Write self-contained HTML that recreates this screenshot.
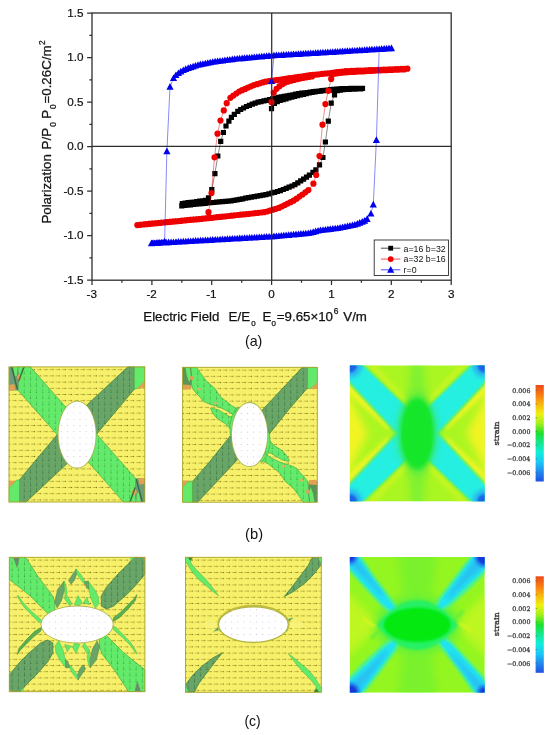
<!DOCTYPE html>
<html lang="en"><head><meta charset="utf-8"><title>Figure</title>
<style>
html,body{margin:0;padding:0;background:#fff;}
body{width:550px;height:735px;overflow:hidden;}
svg{display:block;font-family:"Liberation Sans",sans-serif;}
</style></head><body>
<svg width="550" height="735" viewBox="0 0 550 735">
<defs>
<pattern id="ph" width="6.2" height="6.2" patternUnits="userSpaceOnUse" patternTransform="translate(3.2,0)">
<path d="M0.4,3.1H4.0" stroke="#988a1c" stroke-width="0.85" stroke-opacity="0.6"/><circle cx="4.0" cy="3.1" r="0.62" fill="#6e6010" fill-opacity="0.8"/></pattern>
<pattern id="pvl" width="6.2" height="6.2" patternUnits="userSpaceOnUse" patternTransform="translate(0,3.2)">
<path d="M3.1,0.4V4.0" stroke="#3aa84a" stroke-width="0.85" stroke-opacity="0.55"/><circle cx="3.1" cy="4.0" r="0.6" fill="#1f8a35" fill-opacity="0.7"/></pattern>
<pattern id="pvd" width="6.2" height="6.2" patternUnits="userSpaceOnUse" patternTransform="translate(0,3.2)">
<path d="M3.1,0.4V4.0" stroke="#3c7a48" stroke-width="0.85" stroke-opacity="0.6"/><circle cx="3.1" cy="4.0" r="0.6" fill="#2a5f3a" fill-opacity="0.75"/></pattern>
<pattern id="pdot" width="6.2" height="6.2" patternUnits="userSpaceOnUse">
<circle cx="3.1" cy="3.1" r="0.55" fill="#b9a8d0" fill-opacity="0.8"/></pattern>
<filter id="bl1" x="-20%" y="-20%" width="140%" height="140%"><feGaussianBlur stdDeviation="1.1"/></filter>
<filter id="bl2" x="-20%" y="-20%" width="140%" height="140%"><feGaussianBlur stdDeviation="2.2"/></filter>
<filter id="bl3" x="-30%" y="-30%" width="160%" height="160%"><feGaussianBlur stdDeviation="4"/></filter>
<filter id="bl0" x="-10%" y="-10%" width="120%" height="120%"><feGaussianBlur stdDeviation="0.45"/></filter>
<linearGradient id="cb" x1="0" y1="0" x2="0" y2="1">
<stop offset="0" stop-color="#f04818"/><stop offset="0.10" stop-color="#f87a12"/><stop offset="0.20" stop-color="#f8b80c"/>
<stop offset="0.30" stop-color="#f0f012"/><stop offset="0.40" stop-color="#a2f01a"/><stop offset="0.50" stop-color="#1ce02c"/>
<stop offset="0.60" stop-color="#12e890"/><stop offset="0.70" stop-color="#12eedc"/><stop offset="0.80" stop-color="#1ac8f6"/>
<stop offset="0.90" stop-color="#208af0"/><stop offset="1" stop-color="#2050e0"/></linearGradient>
</defs>
<rect width="550" height="735" fill="#fff"/>
<path d="M271.5,108.7 L274.4,103.4 L277.3,101.6 L280.2,100.5 L283.1,99.7 L286.0,98.8 L288.9,97.9 L291.8,97.1 L294.7,96.4 L297.6,95.7 L300.5,94.9 L303.4,94.3 L306.3,93.6 L309.2,93.0 L312.1,92.4 L315.0,92.0 L317.9,91.5 L320.8,91.1 L323.7,90.7 L326.6,90.4 L329.5,90.1 L332.4,89.8" fill="none" stroke="#000000" stroke-width="0.55" stroke-opacity="0.85"/>
<path d="M362.5,88.3 L359.6,88.3 L356.7,88.4 L353.8,88.4 L350.9,88.4 L348.0,88.5 L345.1,88.5 L342.2,88.7 L339.3,88.9 L336.4,89.2 L333.5,89.4 L330.6,89.7 L327.7,90.0 L324.8,90.3 L321.9,90.6 L319.0,91.0 L316.1,91.4 L313.2,91.7 L310.3,92.1 L307.4,92.5 L304.5,92.9 L301.6,93.2 L298.7,93.7 L295.8,94.2 L292.9,94.8 L290.0,95.3 L287.1,95.8 L284.2,96.3 L281.3,96.8 L278.4,97.4 L275.5,98.1 L272.6,98.9 L269.7,99.6 L266.8,100.3 L263.9,100.9 L261.0,101.6 L258.1,102.2 L255.2,103.1 L252.3,104.2 L249.4,105.3 L246.5,106.5 L243.6,108.0 L240.7,109.5 L237.8,111.3 L234.3,114.4 L231.4,117.3 L228.9,121.2 L226.0,126.0 L223.4,132.5 L220.7,141.4 L217.8,156.0 L214.9,173.6 L211.8,189.5 L208.5,197.8 L205.5,200.4 L202.6,200.8 L199.7,201.2 L196.8,201.6 L193.9,202.0 L191.0,202.4 L188.1,202.7 L185.2,203.1 L182.3,203.5" fill="none" stroke="#000000" stroke-width="0.55" stroke-opacity="0.85"/>
<path d="M181.8,205.8 L184.7,205.5 L187.6,205.2 L190.5,204.8 L193.4,204.5 L196.3,204.2 L199.2,203.9 L202.1,203.6 L205.0,203.3 L207.9,203.0 L210.8,202.7 L213.7,202.5 L216.6,202.2 L219.5,201.9 L222.4,201.7 L225.3,201.4 L228.2,201.2 L231.1,200.8 L234.0,200.3 L236.9,199.8 L239.8,199.3 L242.7,198.8 L245.6,198.2 L248.5,197.7 L251.4,197.2 L254.3,196.7 L257.2,196.2 L260.1,195.7 L263.0,195.2 L265.9,194.6 L268.8,193.8 L271.7,193.0 L274.6,192.3 L277.5,191.5 L280.4,190.6 L283.3,189.5 L286.2,188.3 L289.1,187.2 L292.0,186.0 L294.9,184.7 L297.8,182.8 L300.7,180.9 L303.6,179.1 L306.5,177.1 L309.4,175.1 L313.0,172.4 L315.9,169.9 L319.5,164.8 L322.9,157.5 L325.4,142.0 L328.3,121.1 L331.2,103.2 L334.5,94.9 L337.5,90.6 L340.4,90.2 L343.3,89.7 L346.2,89.5 L349.1,89.3 L352.0,89.2 L354.9,89.1 L357.8,89.0 L360.7,88.9" fill="none" stroke="#000000" stroke-width="0.55" stroke-opacity="0.85"/>
<path d="M268.9,106.1h5.2v5.2h-5.2zM271.8,100.8h5.2v5.2h-5.2zM274.7,99.0h5.2v5.2h-5.2zM277.6,97.9h5.2v5.2h-5.2zM280.5,97.1h5.2v5.2h-5.2zM283.4,96.2h5.2v5.2h-5.2zM286.3,95.3h5.2v5.2h-5.2zM289.2,94.5h5.2v5.2h-5.2zM292.1,93.8h5.2v5.2h-5.2zM295.0,93.1h5.2v5.2h-5.2zM297.9,92.3h5.2v5.2h-5.2zM300.8,91.7h5.2v5.2h-5.2zM303.7,91.0h5.2v5.2h-5.2zM306.6,90.4h5.2v5.2h-5.2zM309.5,89.8h5.2v5.2h-5.2zM312.4,89.4h5.2v5.2h-5.2zM315.3,88.9h5.2v5.2h-5.2zM318.2,88.5h5.2v5.2h-5.2zM321.1,88.1h5.2v5.2h-5.2zM324.0,87.8h5.2v5.2h-5.2zM326.9,87.5h5.2v5.2h-5.2zM329.8,87.2h5.2v5.2h-5.2zM359.9,85.7h5.2v5.2h-5.2zM357.0,85.7h5.2v5.2h-5.2zM354.1,85.8h5.2v5.2h-5.2zM351.2,85.8h5.2v5.2h-5.2zM348.3,85.8h5.2v5.2h-5.2zM345.4,85.9h5.2v5.2h-5.2zM342.5,85.9h5.2v5.2h-5.2zM339.6,86.1h5.2v5.2h-5.2zM336.7,86.3h5.2v5.2h-5.2zM333.8,86.6h5.2v5.2h-5.2zM330.9,86.8h5.2v5.2h-5.2zM328.0,87.1h5.2v5.2h-5.2zM325.1,87.4h5.2v5.2h-5.2zM322.2,87.7h5.2v5.2h-5.2zM319.3,88.0h5.2v5.2h-5.2zM316.4,88.4h5.2v5.2h-5.2zM313.5,88.8h5.2v5.2h-5.2zM310.6,89.1h5.2v5.2h-5.2zM307.7,89.5h5.2v5.2h-5.2zM304.8,89.9h5.2v5.2h-5.2zM301.9,90.3h5.2v5.2h-5.2zM299.0,90.6h5.2v5.2h-5.2zM296.1,91.1h5.2v5.2h-5.2zM293.2,91.6h5.2v5.2h-5.2zM290.3,92.2h5.2v5.2h-5.2zM287.4,92.7h5.2v5.2h-5.2zM284.5,93.2h5.2v5.2h-5.2zM281.6,93.7h5.2v5.2h-5.2zM278.7,94.2h5.2v5.2h-5.2zM275.8,94.8h5.2v5.2h-5.2zM272.9,95.5h5.2v5.2h-5.2zM270.0,96.3h5.2v5.2h-5.2zM267.1,97.0h5.2v5.2h-5.2zM264.2,97.7h5.2v5.2h-5.2zM261.3,98.3h5.2v5.2h-5.2zM258.4,99.0h5.2v5.2h-5.2zM255.5,99.6h5.2v5.2h-5.2zM252.6,100.5h5.2v5.2h-5.2zM249.7,101.6h5.2v5.2h-5.2zM246.8,102.7h5.2v5.2h-5.2zM243.9,103.9h5.2v5.2h-5.2zM241.0,105.4h5.2v5.2h-5.2zM238.1,106.9h5.2v5.2h-5.2zM235.2,108.7h5.2v5.2h-5.2zM231.7,111.8h5.2v5.2h-5.2zM228.8,114.7h5.2v5.2h-5.2zM226.3,118.6h5.2v5.2h-5.2zM223.4,123.4h5.2v5.2h-5.2zM220.8,129.9h5.2v5.2h-5.2zM218.1,138.8h5.2v5.2h-5.2zM215.2,153.4h5.2v5.2h-5.2zM212.3,171.0h5.2v5.2h-5.2zM209.2,186.9h5.2v5.2h-5.2zM205.9,195.2h5.2v5.2h-5.2zM202.9,197.8h5.2v5.2h-5.2zM200.0,198.2h5.2v5.2h-5.2zM197.1,198.6h5.2v5.2h-5.2zM194.2,199.0h5.2v5.2h-5.2zM191.3,199.4h5.2v5.2h-5.2zM188.4,199.8h5.2v5.2h-5.2zM185.5,200.1h5.2v5.2h-5.2zM182.6,200.5h5.2v5.2h-5.2zM179.7,200.9h5.2v5.2h-5.2zM179.2,203.2h5.2v5.2h-5.2zM182.1,202.9h5.2v5.2h-5.2zM185.0,202.6h5.2v5.2h-5.2zM187.9,202.2h5.2v5.2h-5.2zM190.8,201.9h5.2v5.2h-5.2zM193.7,201.6h5.2v5.2h-5.2zM196.6,201.3h5.2v5.2h-5.2zM199.5,201.0h5.2v5.2h-5.2zM202.4,200.7h5.2v5.2h-5.2zM205.3,200.4h5.2v5.2h-5.2zM208.2,200.1h5.2v5.2h-5.2zM211.1,199.9h5.2v5.2h-5.2zM214.0,199.6h5.2v5.2h-5.2zM216.9,199.3h5.2v5.2h-5.2zM219.8,199.1h5.2v5.2h-5.2zM222.7,198.8h5.2v5.2h-5.2zM225.6,198.6h5.2v5.2h-5.2zM228.5,198.2h5.2v5.2h-5.2zM231.4,197.7h5.2v5.2h-5.2zM234.3,197.2h5.2v5.2h-5.2zM237.2,196.7h5.2v5.2h-5.2zM240.1,196.2h5.2v5.2h-5.2zM243.0,195.6h5.2v5.2h-5.2zM245.9,195.1h5.2v5.2h-5.2zM248.8,194.6h5.2v5.2h-5.2zM251.7,194.1h5.2v5.2h-5.2zM254.6,193.6h5.2v5.2h-5.2zM257.5,193.1h5.2v5.2h-5.2zM260.4,192.6h5.2v5.2h-5.2zM263.3,192.0h5.2v5.2h-5.2zM266.2,191.2h5.2v5.2h-5.2zM269.1,190.4h5.2v5.2h-5.2zM272.0,189.7h5.2v5.2h-5.2zM274.9,188.9h5.2v5.2h-5.2zM277.8,188.0h5.2v5.2h-5.2zM280.7,186.9h5.2v5.2h-5.2zM283.6,185.7h5.2v5.2h-5.2zM286.5,184.6h5.2v5.2h-5.2zM289.4,183.4h5.2v5.2h-5.2zM292.3,182.1h5.2v5.2h-5.2zM295.2,180.2h5.2v5.2h-5.2zM298.1,178.3h5.2v5.2h-5.2zM301.0,176.5h5.2v5.2h-5.2zM303.9,174.5h5.2v5.2h-5.2zM306.8,172.5h5.2v5.2h-5.2zM310.4,169.8h5.2v5.2h-5.2zM313.3,167.3h5.2v5.2h-5.2zM316.9,162.2h5.2v5.2h-5.2zM320.3,154.9h5.2v5.2h-5.2zM322.8,139.4h5.2v5.2h-5.2zM325.7,118.5h5.2v5.2h-5.2zM328.6,100.6h5.2v5.2h-5.2zM331.9,92.3h5.2v5.2h-5.2zM334.9,88.0h5.2v5.2h-5.2zM337.8,87.6h5.2v5.2h-5.2zM340.7,87.1h5.2v5.2h-5.2zM343.6,86.9h5.2v5.2h-5.2zM346.5,86.7h5.2v5.2h-5.2zM349.4,86.6h5.2v5.2h-5.2zM352.3,86.5h5.2v5.2h-5.2zM355.2,86.4h5.2v5.2h-5.2zM358.1,86.3h5.2v5.2h-5.2z" fill="#000000"/>
<path d="M271.5,102.2 L273.7,92.7 L276.6,88.8 L279.5,86.2 L282.4,84.2 L285.3,82.6 L288.3,81.6 L291.2,80.7 L294.1,79.9 L297.0,79.2 L300.0,78.6 L303.0,78.0 L306.0,77.5 L309.0,77.0 L312.0,76.5" fill="none" stroke="#ee0000" stroke-width="0.55" stroke-opacity="0.85"/>
<path d="M407.4,68.7 L404.4,68.8 L401.5,68.9 L398.6,69.1 L395.6,69.2 L392.7,69.3 L389.7,69.4 L386.8,69.5 L383.8,69.6 L380.9,69.8 L377.9,69.9 L375.0,70.0 L372.0,70.1 L369.1,70.2 L366.1,70.4 L363.2,70.5 L360.2,70.6 L357.3,70.7 L354.3,70.8 L351.4,70.9 L348.4,71.1 L345.5,71.2 L342.5,71.5 L339.6,71.9 L336.6,72.2 L333.7,72.6 L330.7,73.0 L327.8,73.3 L324.8,73.6 L321.9,73.9 L318.9,74.3 L316.0,74.6 L313.0,74.9 L310.1,75.2 L307.1,75.6 L304.2,76.1 L301.2,76.5 L298.3,76.9 L295.3,77.4 L292.4,77.8 L289.4,78.2 L286.5,78.6 L283.5,79.0 L280.6,79.5 L277.6,79.9 L274.7,80.3 L271.7,80.7 L268.8,81.2 L265.8,81.7 L262.9,82.4 L259.9,83.3 L257.0,84.2 L254.0,85.1 L251.1,86.3 L248.1,87.6 L245.2,88.9 L242.2,90.2 L239.3,91.5 L236.3,93.5 L233.4,95.6 L230.4,97.8 L226.7,103.2 L223.8,110.4 L220.5,120.6 L217.5,133.7 L214.5,157.3 L211.5,193.1 L208.5,212.2 L205.5,218.4 L202.6,218.7 L199.6,219.0 L196.7,219.3 L193.7,219.6 L190.8,219.8 L187.8,220.1 L184.9,220.4 L181.9,220.7 L179.0,221.0 L176.0,221.3 L173.1,221.6 L170.1,221.9 L167.2,222.2 L164.2,222.5 L161.3,222.7 L158.3,223.0 L155.4,223.3 L152.4,223.6 L149.5,223.9 L146.5,224.2 L143.6,224.5 L140.6,224.8 L137.7,225.1" fill="none" stroke="#ee0000" stroke-width="0.55" stroke-opacity="0.85"/>
<path d="M137.3,225.1 L140.2,224.8 L143.2,224.5 L146.1,224.2 L149.1,223.9 L152.0,223.7 L155.0,223.4 L157.9,223.1 L160.9,222.8 L163.8,222.5 L166.8,222.2 L169.7,221.9 L172.7,221.6 L175.6,221.4 L178.6,221.1 L181.5,220.8 L184.5,220.5 L187.4,220.2 L190.4,219.9 L193.3,219.6 L196.3,219.3 L199.2,219.1 L202.2,218.8 L205.1,218.5 L208.1,218.2 L211.0,217.9 L214.0,217.6 L216.9,217.2 L219.9,216.9 L222.8,216.6 L225.8,216.3 L228.7,216.0 L231.7,215.7 L234.6,215.3 L237.6,215.0 L240.5,214.7 L243.5,214.4 L246.4,214.1 L249.4,213.8 L252.3,213.5 L255.3,213.1 L258.2,212.8 L261.2,212.5 L264.1,212.2 L267.1,211.5 L270.0,210.6 L273.0,209.7 L275.9,208.8 L278.9,207.9 L281.8,206.5 L284.8,205.1 L287.7,203.6 L290.7,202.2 L293.6,200.7 L296.6,198.7 L299.5,196.6 L302.5,194.5 L305.4,192.3 L308.4,190.1 L313.4,183.7 L316.2,175.0 L319.5,156.1 L322.5,124.7 L325.4,104.1 L328.3,90.8 L331.2,78.9 L334.0,73.8 L336.9,73.4 L339.9,73.0 L342.8,72.6 L345.8,72.3 L348.7,72.1 L351.7,71.9 L354.6,71.8 L357.6,71.6 L360.5,71.4 L363.5,71.3 L366.4,71.1 L369.4,70.9 L372.3,70.8 L375.3,70.6 L378.2,70.5 L381.2,70.3 L384.1,70.2 L387.1,70.1 L390.0,69.9 L393.0,69.8 L395.9,69.7 L398.9,69.6 L401.8,69.4 L404.8,69.3" fill="none" stroke="#ee0000" stroke-width="0.55" stroke-opacity="0.85"/>
<path d="M268.4,102.2a3.1,3.1 0 1,0 6.2,0a3.1,3.1 0 1,0 -6.2,0zM270.6,92.7a3.1,3.1 0 1,0 6.2,0a3.1,3.1 0 1,0 -6.2,0zM273.5,88.8a3.1,3.1 0 1,0 6.2,0a3.1,3.1 0 1,0 -6.2,0zM276.4,86.2a3.1,3.1 0 1,0 6.2,0a3.1,3.1 0 1,0 -6.2,0zM279.3,84.2a3.1,3.1 0 1,0 6.2,0a3.1,3.1 0 1,0 -6.2,0zM282.2,82.6a3.1,3.1 0 1,0 6.2,0a3.1,3.1 0 1,0 -6.2,0zM285.2,81.6a3.1,3.1 0 1,0 6.2,0a3.1,3.1 0 1,0 -6.2,0zM288.1,80.7a3.1,3.1 0 1,0 6.2,0a3.1,3.1 0 1,0 -6.2,0zM291.0,79.9a3.1,3.1 0 1,0 6.2,0a3.1,3.1 0 1,0 -6.2,0zM293.9,79.2a3.1,3.1 0 1,0 6.2,0a3.1,3.1 0 1,0 -6.2,0zM296.9,78.6a3.1,3.1 0 1,0 6.2,0a3.1,3.1 0 1,0 -6.2,0zM299.9,78.0a3.1,3.1 0 1,0 6.2,0a3.1,3.1 0 1,0 -6.2,0zM302.9,77.5a3.1,3.1 0 1,0 6.2,0a3.1,3.1 0 1,0 -6.2,0zM305.9,77.0a3.1,3.1 0 1,0 6.2,0a3.1,3.1 0 1,0 -6.2,0zM308.9,76.5a3.1,3.1 0 1,0 6.2,0a3.1,3.1 0 1,0 -6.2,0zM404.3,68.7a3.1,3.1 0 1,0 6.2,0a3.1,3.1 0 1,0 -6.2,0zM401.3,68.8a3.1,3.1 0 1,0 6.2,0a3.1,3.1 0 1,0 -6.2,0zM398.4,68.9a3.1,3.1 0 1,0 6.2,0a3.1,3.1 0 1,0 -6.2,0zM395.4,69.1a3.1,3.1 0 1,0 6.2,0a3.1,3.1 0 1,0 -6.2,0zM392.5,69.2a3.1,3.1 0 1,0 6.2,0a3.1,3.1 0 1,0 -6.2,0zM389.6,69.3a3.1,3.1 0 1,0 6.2,0a3.1,3.1 0 1,0 -6.2,0zM386.6,69.4a3.1,3.1 0 1,0 6.2,0a3.1,3.1 0 1,0 -6.2,0zM383.7,69.5a3.1,3.1 0 1,0 6.2,0a3.1,3.1 0 1,0 -6.2,0zM380.7,69.6a3.1,3.1 0 1,0 6.2,0a3.1,3.1 0 1,0 -6.2,0zM377.8,69.8a3.1,3.1 0 1,0 6.2,0a3.1,3.1 0 1,0 -6.2,0zM374.8,69.9a3.1,3.1 0 1,0 6.2,0a3.1,3.1 0 1,0 -6.2,0zM371.9,70.0a3.1,3.1 0 1,0 6.2,0a3.1,3.1 0 1,0 -6.2,0zM368.9,70.1a3.1,3.1 0 1,0 6.2,0a3.1,3.1 0 1,0 -6.2,0zM366.0,70.2a3.1,3.1 0 1,0 6.2,0a3.1,3.1 0 1,0 -6.2,0zM363.0,70.4a3.1,3.1 0 1,0 6.2,0a3.1,3.1 0 1,0 -6.2,0zM360.1,70.5a3.1,3.1 0 1,0 6.2,0a3.1,3.1 0 1,0 -6.2,0zM357.1,70.6a3.1,3.1 0 1,0 6.2,0a3.1,3.1 0 1,0 -6.2,0zM354.2,70.7a3.1,3.1 0 1,0 6.2,0a3.1,3.1 0 1,0 -6.2,0zM351.2,70.8a3.1,3.1 0 1,0 6.2,0a3.1,3.1 0 1,0 -6.2,0zM348.3,70.9a3.1,3.1 0 1,0 6.2,0a3.1,3.1 0 1,0 -6.2,0zM345.3,71.1a3.1,3.1 0 1,0 6.2,0a3.1,3.1 0 1,0 -6.2,0zM342.4,71.2a3.1,3.1 0 1,0 6.2,0a3.1,3.1 0 1,0 -6.2,0zM339.4,71.5a3.1,3.1 0 1,0 6.2,0a3.1,3.1 0 1,0 -6.2,0zM336.5,71.9a3.1,3.1 0 1,0 6.2,0a3.1,3.1 0 1,0 -6.2,0zM333.5,72.2a3.1,3.1 0 1,0 6.2,0a3.1,3.1 0 1,0 -6.2,0zM330.6,72.6a3.1,3.1 0 1,0 6.2,0a3.1,3.1 0 1,0 -6.2,0zM327.6,73.0a3.1,3.1 0 1,0 6.2,0a3.1,3.1 0 1,0 -6.2,0zM324.7,73.3a3.1,3.1 0 1,0 6.2,0a3.1,3.1 0 1,0 -6.2,0zM321.7,73.6a3.1,3.1 0 1,0 6.2,0a3.1,3.1 0 1,0 -6.2,0zM318.8,73.9a3.1,3.1 0 1,0 6.2,0a3.1,3.1 0 1,0 -6.2,0zM315.8,74.3a3.1,3.1 0 1,0 6.2,0a3.1,3.1 0 1,0 -6.2,0zM312.9,74.6a3.1,3.1 0 1,0 6.2,0a3.1,3.1 0 1,0 -6.2,0zM309.9,74.9a3.1,3.1 0 1,0 6.2,0a3.1,3.1 0 1,0 -6.2,0zM307.0,75.2a3.1,3.1 0 1,0 6.2,0a3.1,3.1 0 1,0 -6.2,0zM304.0,75.6a3.1,3.1 0 1,0 6.2,0a3.1,3.1 0 1,0 -6.2,0zM301.1,76.1a3.1,3.1 0 1,0 6.2,0a3.1,3.1 0 1,0 -6.2,0zM298.1,76.5a3.1,3.1 0 1,0 6.2,0a3.1,3.1 0 1,0 -6.2,0zM295.2,76.9a3.1,3.1 0 1,0 6.2,0a3.1,3.1 0 1,0 -6.2,0zM292.2,77.4a3.1,3.1 0 1,0 6.2,0a3.1,3.1 0 1,0 -6.2,0zM289.3,77.8a3.1,3.1 0 1,0 6.2,0a3.1,3.1 0 1,0 -6.2,0zM286.3,78.2a3.1,3.1 0 1,0 6.2,0a3.1,3.1 0 1,0 -6.2,0zM283.4,78.6a3.1,3.1 0 1,0 6.2,0a3.1,3.1 0 1,0 -6.2,0zM280.4,79.0a3.1,3.1 0 1,0 6.2,0a3.1,3.1 0 1,0 -6.2,0zM277.5,79.5a3.1,3.1 0 1,0 6.2,0a3.1,3.1 0 1,0 -6.2,0zM274.5,79.9a3.1,3.1 0 1,0 6.2,0a3.1,3.1 0 1,0 -6.2,0zM271.6,80.3a3.1,3.1 0 1,0 6.2,0a3.1,3.1 0 1,0 -6.2,0zM268.6,80.7a3.1,3.1 0 1,0 6.2,0a3.1,3.1 0 1,0 -6.2,0zM265.7,81.2a3.1,3.1 0 1,0 6.2,0a3.1,3.1 0 1,0 -6.2,0zM262.7,81.7a3.1,3.1 0 1,0 6.2,0a3.1,3.1 0 1,0 -6.2,0zM259.8,82.4a3.1,3.1 0 1,0 6.2,0a3.1,3.1 0 1,0 -6.2,0zM256.8,83.3a3.1,3.1 0 1,0 6.2,0a3.1,3.1 0 1,0 -6.2,0zM253.9,84.2a3.1,3.1 0 1,0 6.2,0a3.1,3.1 0 1,0 -6.2,0zM250.9,85.1a3.1,3.1 0 1,0 6.2,0a3.1,3.1 0 1,0 -6.2,0zM248.0,86.3a3.1,3.1 0 1,0 6.2,0a3.1,3.1 0 1,0 -6.2,0zM245.0,87.6a3.1,3.1 0 1,0 6.2,0a3.1,3.1 0 1,0 -6.2,0zM242.1,88.9a3.1,3.1 0 1,0 6.2,0a3.1,3.1 0 1,0 -6.2,0zM239.1,90.2a3.1,3.1 0 1,0 6.2,0a3.1,3.1 0 1,0 -6.2,0zM236.2,91.5a3.1,3.1 0 1,0 6.2,0a3.1,3.1 0 1,0 -6.2,0zM233.2,93.5a3.1,3.1 0 1,0 6.2,0a3.1,3.1 0 1,0 -6.2,0zM230.3,95.6a3.1,3.1 0 1,0 6.2,0a3.1,3.1 0 1,0 -6.2,0zM227.3,97.8a3.1,3.1 0 1,0 6.2,0a3.1,3.1 0 1,0 -6.2,0zM223.6,103.2a3.1,3.1 0 1,0 6.2,0a3.1,3.1 0 1,0 -6.2,0zM220.7,110.4a3.1,3.1 0 1,0 6.2,0a3.1,3.1 0 1,0 -6.2,0zM217.4,120.6a3.1,3.1 0 1,0 6.2,0a3.1,3.1 0 1,0 -6.2,0zM214.4,133.7a3.1,3.1 0 1,0 6.2,0a3.1,3.1 0 1,0 -6.2,0zM211.4,157.3a3.1,3.1 0 1,0 6.2,0a3.1,3.1 0 1,0 -6.2,0zM208.4,193.1a3.1,3.1 0 1,0 6.2,0a3.1,3.1 0 1,0 -6.2,0zM205.4,212.2a3.1,3.1 0 1,0 6.2,0a3.1,3.1 0 1,0 -6.2,0zM202.4,218.4a3.1,3.1 0 1,0 6.2,0a3.1,3.1 0 1,0 -6.2,0zM199.5,218.7a3.1,3.1 0 1,0 6.2,0a3.1,3.1 0 1,0 -6.2,0zM196.5,219.0a3.1,3.1 0 1,0 6.2,0a3.1,3.1 0 1,0 -6.2,0zM193.6,219.3a3.1,3.1 0 1,0 6.2,0a3.1,3.1 0 1,0 -6.2,0zM190.6,219.6a3.1,3.1 0 1,0 6.2,0a3.1,3.1 0 1,0 -6.2,0zM187.7,219.8a3.1,3.1 0 1,0 6.2,0a3.1,3.1 0 1,0 -6.2,0zM184.7,220.1a3.1,3.1 0 1,0 6.2,0a3.1,3.1 0 1,0 -6.2,0zM181.8,220.4a3.1,3.1 0 1,0 6.2,0a3.1,3.1 0 1,0 -6.2,0zM178.8,220.7a3.1,3.1 0 1,0 6.2,0a3.1,3.1 0 1,0 -6.2,0zM175.9,221.0a3.1,3.1 0 1,0 6.2,0a3.1,3.1 0 1,0 -6.2,0zM172.9,221.3a3.1,3.1 0 1,0 6.2,0a3.1,3.1 0 1,0 -6.2,0zM170.0,221.6a3.1,3.1 0 1,0 6.2,0a3.1,3.1 0 1,0 -6.2,0zM167.0,221.9a3.1,3.1 0 1,0 6.2,0a3.1,3.1 0 1,0 -6.2,0zM164.1,222.2a3.1,3.1 0 1,0 6.2,0a3.1,3.1 0 1,0 -6.2,0zM161.1,222.5a3.1,3.1 0 1,0 6.2,0a3.1,3.1 0 1,0 -6.2,0zM158.2,222.7a3.1,3.1 0 1,0 6.2,0a3.1,3.1 0 1,0 -6.2,0zM155.2,223.0a3.1,3.1 0 1,0 6.2,0a3.1,3.1 0 1,0 -6.2,0zM152.3,223.3a3.1,3.1 0 1,0 6.2,0a3.1,3.1 0 1,0 -6.2,0zM149.3,223.6a3.1,3.1 0 1,0 6.2,0a3.1,3.1 0 1,0 -6.2,0zM146.4,223.9a3.1,3.1 0 1,0 6.2,0a3.1,3.1 0 1,0 -6.2,0zM143.4,224.2a3.1,3.1 0 1,0 6.2,0a3.1,3.1 0 1,0 -6.2,0zM140.5,224.5a3.1,3.1 0 1,0 6.2,0a3.1,3.1 0 1,0 -6.2,0zM137.5,224.8a3.1,3.1 0 1,0 6.2,0a3.1,3.1 0 1,0 -6.2,0zM134.6,225.1a3.1,3.1 0 1,0 6.2,0a3.1,3.1 0 1,0 -6.2,0zM134.2,225.1a3.1,3.1 0 1,0 6.2,0a3.1,3.1 0 1,0 -6.2,0zM137.2,224.8a3.1,3.1 0 1,0 6.2,0a3.1,3.1 0 1,0 -6.2,0zM140.1,224.5a3.1,3.1 0 1,0 6.2,0a3.1,3.1 0 1,0 -6.2,0zM143.0,224.2a3.1,3.1 0 1,0 6.2,0a3.1,3.1 0 1,0 -6.2,0zM146.0,223.9a3.1,3.1 0 1,0 6.2,0a3.1,3.1 0 1,0 -6.2,0zM148.9,223.7a3.1,3.1 0 1,0 6.2,0a3.1,3.1 0 1,0 -6.2,0zM151.9,223.4a3.1,3.1 0 1,0 6.2,0a3.1,3.1 0 1,0 -6.2,0zM154.8,223.1a3.1,3.1 0 1,0 6.2,0a3.1,3.1 0 1,0 -6.2,0zM157.8,222.8a3.1,3.1 0 1,0 6.2,0a3.1,3.1 0 1,0 -6.2,0zM160.7,222.5a3.1,3.1 0 1,0 6.2,0a3.1,3.1 0 1,0 -6.2,0zM163.7,222.2a3.1,3.1 0 1,0 6.2,0a3.1,3.1 0 1,0 -6.2,0zM166.6,221.9a3.1,3.1 0 1,0 6.2,0a3.1,3.1 0 1,0 -6.2,0zM169.6,221.6a3.1,3.1 0 1,0 6.2,0a3.1,3.1 0 1,0 -6.2,0zM172.5,221.4a3.1,3.1 0 1,0 6.2,0a3.1,3.1 0 1,0 -6.2,0zM175.5,221.1a3.1,3.1 0 1,0 6.2,0a3.1,3.1 0 1,0 -6.2,0zM178.4,220.8a3.1,3.1 0 1,0 6.2,0a3.1,3.1 0 1,0 -6.2,0zM181.4,220.5a3.1,3.1 0 1,0 6.2,0a3.1,3.1 0 1,0 -6.2,0zM184.3,220.2a3.1,3.1 0 1,0 6.2,0a3.1,3.1 0 1,0 -6.2,0zM187.3,219.9a3.1,3.1 0 1,0 6.2,0a3.1,3.1 0 1,0 -6.2,0zM190.2,219.6a3.1,3.1 0 1,0 6.2,0a3.1,3.1 0 1,0 -6.2,0zM193.2,219.3a3.1,3.1 0 1,0 6.2,0a3.1,3.1 0 1,0 -6.2,0zM196.1,219.1a3.1,3.1 0 1,0 6.2,0a3.1,3.1 0 1,0 -6.2,0zM199.1,218.8a3.1,3.1 0 1,0 6.2,0a3.1,3.1 0 1,0 -6.2,0zM202.0,218.5a3.1,3.1 0 1,0 6.2,0a3.1,3.1 0 1,0 -6.2,0zM205.0,218.2a3.1,3.1 0 1,0 6.2,0a3.1,3.1 0 1,0 -6.2,0zM207.9,217.9a3.1,3.1 0 1,0 6.2,0a3.1,3.1 0 1,0 -6.2,0zM210.9,217.6a3.1,3.1 0 1,0 6.2,0a3.1,3.1 0 1,0 -6.2,0zM213.8,217.2a3.1,3.1 0 1,0 6.2,0a3.1,3.1 0 1,0 -6.2,0zM216.8,216.9a3.1,3.1 0 1,0 6.2,0a3.1,3.1 0 1,0 -6.2,0zM219.7,216.6a3.1,3.1 0 1,0 6.2,0a3.1,3.1 0 1,0 -6.2,0zM222.7,216.3a3.1,3.1 0 1,0 6.2,0a3.1,3.1 0 1,0 -6.2,0zM225.6,216.0a3.1,3.1 0 1,0 6.2,0a3.1,3.1 0 1,0 -6.2,0zM228.6,215.7a3.1,3.1 0 1,0 6.2,0a3.1,3.1 0 1,0 -6.2,0zM231.5,215.3a3.1,3.1 0 1,0 6.2,0a3.1,3.1 0 1,0 -6.2,0zM234.5,215.0a3.1,3.1 0 1,0 6.2,0a3.1,3.1 0 1,0 -6.2,0zM237.4,214.7a3.1,3.1 0 1,0 6.2,0a3.1,3.1 0 1,0 -6.2,0zM240.4,214.4a3.1,3.1 0 1,0 6.2,0a3.1,3.1 0 1,0 -6.2,0zM243.3,214.1a3.1,3.1 0 1,0 6.2,0a3.1,3.1 0 1,0 -6.2,0zM246.3,213.8a3.1,3.1 0 1,0 6.2,0a3.1,3.1 0 1,0 -6.2,0zM249.2,213.5a3.1,3.1 0 1,0 6.2,0a3.1,3.1 0 1,0 -6.2,0zM252.2,213.1a3.1,3.1 0 1,0 6.2,0a3.1,3.1 0 1,0 -6.2,0zM255.1,212.8a3.1,3.1 0 1,0 6.2,0a3.1,3.1 0 1,0 -6.2,0zM258.1,212.5a3.1,3.1 0 1,0 6.2,0a3.1,3.1 0 1,0 -6.2,0zM261.0,212.2a3.1,3.1 0 1,0 6.2,0a3.1,3.1 0 1,0 -6.2,0zM264.0,211.5a3.1,3.1 0 1,0 6.2,0a3.1,3.1 0 1,0 -6.2,0zM266.9,210.6a3.1,3.1 0 1,0 6.2,0a3.1,3.1 0 1,0 -6.2,0zM269.9,209.7a3.1,3.1 0 1,0 6.2,0a3.1,3.1 0 1,0 -6.2,0zM272.8,208.8a3.1,3.1 0 1,0 6.2,0a3.1,3.1 0 1,0 -6.2,0zM275.8,207.9a3.1,3.1 0 1,0 6.2,0a3.1,3.1 0 1,0 -6.2,0zM278.7,206.5a3.1,3.1 0 1,0 6.2,0a3.1,3.1 0 1,0 -6.2,0zM281.7,205.1a3.1,3.1 0 1,0 6.2,0a3.1,3.1 0 1,0 -6.2,0zM284.6,203.6a3.1,3.1 0 1,0 6.2,0a3.1,3.1 0 1,0 -6.2,0zM287.6,202.2a3.1,3.1 0 1,0 6.2,0a3.1,3.1 0 1,0 -6.2,0zM290.5,200.7a3.1,3.1 0 1,0 6.2,0a3.1,3.1 0 1,0 -6.2,0zM293.5,198.7a3.1,3.1 0 1,0 6.2,0a3.1,3.1 0 1,0 -6.2,0zM296.4,196.6a3.1,3.1 0 1,0 6.2,0a3.1,3.1 0 1,0 -6.2,0zM299.4,194.5a3.1,3.1 0 1,0 6.2,0a3.1,3.1 0 1,0 -6.2,0zM302.3,192.3a3.1,3.1 0 1,0 6.2,0a3.1,3.1 0 1,0 -6.2,0zM305.3,190.1a3.1,3.1 0 1,0 6.2,0a3.1,3.1 0 1,0 -6.2,0zM310.3,183.7a3.1,3.1 0 1,0 6.2,0a3.1,3.1 0 1,0 -6.2,0zM313.1,175.0a3.1,3.1 0 1,0 6.2,0a3.1,3.1 0 1,0 -6.2,0zM316.4,156.1a3.1,3.1 0 1,0 6.2,0a3.1,3.1 0 1,0 -6.2,0zM319.4,124.7a3.1,3.1 0 1,0 6.2,0a3.1,3.1 0 1,0 -6.2,0zM322.3,104.1a3.1,3.1 0 1,0 6.2,0a3.1,3.1 0 1,0 -6.2,0zM325.2,90.8a3.1,3.1 0 1,0 6.2,0a3.1,3.1 0 1,0 -6.2,0zM328.1,78.9a3.1,3.1 0 1,0 6.2,0a3.1,3.1 0 1,0 -6.2,0zM330.9,73.8a3.1,3.1 0 1,0 6.2,0a3.1,3.1 0 1,0 -6.2,0zM333.8,73.4a3.1,3.1 0 1,0 6.2,0a3.1,3.1 0 1,0 -6.2,0zM336.8,73.0a3.1,3.1 0 1,0 6.2,0a3.1,3.1 0 1,0 -6.2,0zM339.7,72.6a3.1,3.1 0 1,0 6.2,0a3.1,3.1 0 1,0 -6.2,0zM342.7,72.3a3.1,3.1 0 1,0 6.2,0a3.1,3.1 0 1,0 -6.2,0zM345.6,72.1a3.1,3.1 0 1,0 6.2,0a3.1,3.1 0 1,0 -6.2,0zM348.6,71.9a3.1,3.1 0 1,0 6.2,0a3.1,3.1 0 1,0 -6.2,0zM351.5,71.8a3.1,3.1 0 1,0 6.2,0a3.1,3.1 0 1,0 -6.2,0zM354.5,71.6a3.1,3.1 0 1,0 6.2,0a3.1,3.1 0 1,0 -6.2,0zM357.4,71.4a3.1,3.1 0 1,0 6.2,0a3.1,3.1 0 1,0 -6.2,0zM360.4,71.3a3.1,3.1 0 1,0 6.2,0a3.1,3.1 0 1,0 -6.2,0zM363.3,71.1a3.1,3.1 0 1,0 6.2,0a3.1,3.1 0 1,0 -6.2,0zM366.3,70.9a3.1,3.1 0 1,0 6.2,0a3.1,3.1 0 1,0 -6.2,0zM369.2,70.8a3.1,3.1 0 1,0 6.2,0a3.1,3.1 0 1,0 -6.2,0zM372.2,70.6a3.1,3.1 0 1,0 6.2,0a3.1,3.1 0 1,0 -6.2,0zM375.1,70.5a3.1,3.1 0 1,0 6.2,0a3.1,3.1 0 1,0 -6.2,0zM378.1,70.3a3.1,3.1 0 1,0 6.2,0a3.1,3.1 0 1,0 -6.2,0zM381.0,70.2a3.1,3.1 0 1,0 6.2,0a3.1,3.1 0 1,0 -6.2,0zM384.0,70.1a3.1,3.1 0 1,0 6.2,0a3.1,3.1 0 1,0 -6.2,0zM386.9,69.9a3.1,3.1 0 1,0 6.2,0a3.1,3.1 0 1,0 -6.2,0zM389.9,69.8a3.1,3.1 0 1,0 6.2,0a3.1,3.1 0 1,0 -6.2,0zM392.8,69.7a3.1,3.1 0 1,0 6.2,0a3.1,3.1 0 1,0 -6.2,0zM395.8,69.6a3.1,3.1 0 1,0 6.2,0a3.1,3.1 0 1,0 -6.2,0zM398.7,69.4a3.1,3.1 0 1,0 6.2,0a3.1,3.1 0 1,0 -6.2,0zM401.7,69.3a3.1,3.1 0 1,0 6.2,0a3.1,3.1 0 1,0 -6.2,0z" fill="#ee0000"/>
<path d="M271.5,81.1 L274.0,55.4" fill="none" stroke="#0000ee" stroke-width="0.55" stroke-opacity="0.85"/>
<path d="M391.5,48.3 L389.1,48.5 L386.6,48.6 L384.2,48.8 L381.7,48.9 L379.3,49.1 L376.8,49.2 L374.4,49.4 L371.9,49.5 L369.5,49.7 L367.0,49.8 L364.6,50.0 L362.1,50.1 L359.7,50.3 L357.2,50.4 L354.8,50.6 L352.3,50.7 L349.9,50.9 L347.4,51.0 L345.0,51.2 L342.5,51.3 L340.1,51.5 L337.6,51.7 L335.2,51.8 L332.7,52.0 L330.3,52.1 L327.8,52.2 L325.4,52.4 L322.9,52.5 L320.5,52.7 L318.0,52.8 L315.6,53.0 L313.1,53.1 L310.7,53.2 L308.2,53.4 L305.8,53.5 L303.3,53.7 L300.9,53.8 L298.4,54.0 L296.0,54.1 L293.5,54.2 L291.1,54.4 L288.6,54.5 L286.2,54.7 L283.7,54.8 L281.3,55.0 L278.8,55.1 L276.4,55.2 L273.9,55.4 L271.5,55.6 L269.0,55.8 L266.6,56.0 L264.1,56.2 L261.7,56.5 L259.2,56.7 L256.8,56.9 L254.3,57.1 L251.9,57.4 L249.4,57.6 L247.0,57.8 L244.5,58.0 L242.1,58.3 L239.6,58.5 L237.2,58.7 L234.7,58.9 L232.3,59.3 L229.8,59.6 L227.4,59.9 L224.9,60.2 L222.5,60.6 L220.0,60.9 L217.6,61.2 L215.1,61.5 L212.7,61.9 L210.2,62.4 L207.8,62.9 L205.3,63.4 L202.9,63.9 L200.4,64.3 L198.0,64.9 L195.5,65.7 L193.1,66.5 L190.6,67.3 L188.2,68.0 L185.7,69.0 L183.3,70.2 L180.8,71.5 L178.4,73.1 L175.9,75.2 L173.5,78.1 L170.0,86.8 L166.9,151.3 L164.6,241.5 L162.2,242.7 L159.8,242.8 L157.3,243.0 L154.9,243.1 L152.4,243.2" fill="none" stroke="#0000ee" stroke-width="0.55" stroke-opacity="0.85"/>
<path d="M151.5,243.3 L153.9,243.2 L156.4,243.0 L158.8,242.9 L161.3,242.7 L163.7,242.6 L166.2,242.5 L168.6,242.3 L171.1,242.2 L173.5,242.1 L176.0,241.9 L178.4,241.8 L180.9,241.6 L183.3,241.5 L185.8,241.4 L188.2,241.2 L190.7,241.1 L193.1,240.9 L195.6,240.8 L198.0,240.7 L200.5,240.5 L202.9,240.4 L205.4,240.3 L207.8,240.1 L210.3,240.0 L212.7,239.8 L215.2,239.7 L217.6,239.6 L220.1,239.4 L222.5,239.3 L225.0,239.2 L227.4,239.0 L229.9,238.9 L232.3,238.7 L234.8,238.6 L237.2,238.5 L239.7,238.3 L242.1,238.2 L244.6,238.0 L247.0,237.9 L249.5,237.8 L251.9,237.6 L254.4,237.5 L256.8,237.4 L259.3,237.2 L261.7,237.1 L264.2,236.9 L266.6,236.8 L269.1,236.7 L271.5,236.5 L274.0,236.3 L276.4,236.1 L278.9,235.9 L281.3,235.6 L283.8,235.4 L286.2,235.2 L288.7,235.0 L291.1,234.7 L293.6,234.5 L296.0,234.3 L298.5,234.1 L300.9,233.8 L303.4,233.6 L305.8,233.4 L308.3,233.2 L310.7,232.6 L313.2,232.0 L315.6,231.3 L318.1,230.6 L320.5,230.2 L323.0,229.9 L325.4,229.6 L327.9,229.3 L330.3,229.0 L332.8,228.7 L335.2,228.4 L337.7,228.1 L340.1,227.6 L342.6,227.1 L345.0,226.6 L347.5,226.1 L349.9,225.6 L352.4,225.1 L354.8,224.6 L357.3,223.8 L359.7,222.8 L362.2,221.8 L364.6,220.8 L367.1,219.0 L370.9,213.6 L373.3,204.5 L376.4,140.0 L379.2,49.2 L381.6,49.0 L384.1,48.8 L386.5,48.7 L388.9,48.5 L391.4,48.3" fill="none" stroke="#0000ee" stroke-width="0.55" stroke-opacity="0.85"/>
<path d="M271.5,77.4l3.6,6.6h-7.2zM274.0,51.7l3.6,6.6h-7.2zM391.5,44.6l3.6,6.6h-7.2zM389.1,44.8l3.6,6.6h-7.2zM386.6,44.9l3.6,6.6h-7.2zM384.2,45.1l3.6,6.6h-7.2zM381.7,45.2l3.6,6.6h-7.2zM379.3,45.4l3.6,6.6h-7.2zM376.8,45.5l3.6,6.6h-7.2zM374.4,45.7l3.6,6.6h-7.2zM371.9,45.8l3.6,6.6h-7.2zM369.5,46.0l3.6,6.6h-7.2zM367.0,46.1l3.6,6.6h-7.2zM364.6,46.3l3.6,6.6h-7.2zM362.1,46.4l3.6,6.6h-7.2zM359.7,46.6l3.6,6.6h-7.2zM357.2,46.7l3.6,6.6h-7.2zM354.8,46.9l3.6,6.6h-7.2zM352.3,47.0l3.6,6.6h-7.2zM349.9,47.2l3.6,6.6h-7.2zM347.4,47.3l3.6,6.6h-7.2zM345.0,47.5l3.6,6.6h-7.2zM342.5,47.6l3.6,6.6h-7.2zM340.1,47.8l3.6,6.6h-7.2zM337.6,48.0l3.6,6.6h-7.2zM335.2,48.1l3.6,6.6h-7.2zM332.7,48.3l3.6,6.6h-7.2zM330.3,48.4l3.6,6.6h-7.2zM327.8,48.5l3.6,6.6h-7.2zM325.4,48.7l3.6,6.6h-7.2zM322.9,48.8l3.6,6.6h-7.2zM320.5,49.0l3.6,6.6h-7.2zM318.0,49.1l3.6,6.6h-7.2zM315.6,49.3l3.6,6.6h-7.2zM313.1,49.4l3.6,6.6h-7.2zM310.7,49.5l3.6,6.6h-7.2zM308.2,49.7l3.6,6.6h-7.2zM305.8,49.8l3.6,6.6h-7.2zM303.3,50.0l3.6,6.6h-7.2zM300.9,50.1l3.6,6.6h-7.2zM298.4,50.3l3.6,6.6h-7.2zM296.0,50.4l3.6,6.6h-7.2zM293.5,50.5l3.6,6.6h-7.2zM291.1,50.7l3.6,6.6h-7.2zM288.6,50.8l3.6,6.6h-7.2zM286.2,51.0l3.6,6.6h-7.2zM283.7,51.1l3.6,6.6h-7.2zM281.3,51.3l3.6,6.6h-7.2zM278.8,51.4l3.6,6.6h-7.2zM276.4,51.5l3.6,6.6h-7.2zM273.9,51.7l3.6,6.6h-7.2zM271.5,51.9l3.6,6.6h-7.2zM269.0,52.1l3.6,6.6h-7.2zM266.6,52.3l3.6,6.6h-7.2zM264.1,52.5l3.6,6.6h-7.2zM261.7,52.8l3.6,6.6h-7.2zM259.2,53.0l3.6,6.6h-7.2zM256.8,53.2l3.6,6.6h-7.2zM254.3,53.4l3.6,6.6h-7.2zM251.9,53.7l3.6,6.6h-7.2zM249.4,53.9l3.6,6.6h-7.2zM247.0,54.1l3.6,6.6h-7.2zM244.5,54.3l3.6,6.6h-7.2zM242.1,54.6l3.6,6.6h-7.2zM239.6,54.8l3.6,6.6h-7.2zM237.2,55.0l3.6,6.6h-7.2zM234.7,55.2l3.6,6.6h-7.2zM232.3,55.6l3.6,6.6h-7.2zM229.8,55.9l3.6,6.6h-7.2zM227.4,56.2l3.6,6.6h-7.2zM224.9,56.5l3.6,6.6h-7.2zM222.5,56.9l3.6,6.6h-7.2zM220.0,57.2l3.6,6.6h-7.2zM217.6,57.5l3.6,6.6h-7.2zM215.1,57.8l3.6,6.6h-7.2zM212.7,58.2l3.6,6.6h-7.2zM210.2,58.7l3.6,6.6h-7.2zM207.8,59.2l3.6,6.6h-7.2zM205.3,59.7l3.6,6.6h-7.2zM202.9,60.2l3.6,6.6h-7.2zM200.4,60.6l3.6,6.6h-7.2zM198.0,61.2l3.6,6.6h-7.2zM195.5,62.0l3.6,6.6h-7.2zM193.1,62.8l3.6,6.6h-7.2zM190.6,63.6l3.6,6.6h-7.2zM188.2,64.3l3.6,6.6h-7.2zM185.7,65.3l3.6,6.6h-7.2zM183.3,66.5l3.6,6.6h-7.2zM180.8,67.8l3.6,6.6h-7.2zM178.4,69.4l3.6,6.6h-7.2zM175.9,71.5l3.6,6.6h-7.2zM173.5,74.4l3.6,6.6h-7.2zM170.0,83.1l3.6,6.6h-7.2zM166.9,147.6l3.6,6.6h-7.2zM164.6,237.8l3.6,6.6h-7.2zM162.2,239.0l3.6,6.6h-7.2zM159.8,239.1l3.6,6.6h-7.2zM157.3,239.3l3.6,6.6h-7.2zM154.9,239.4l3.6,6.6h-7.2zM152.4,239.5l3.6,6.6h-7.2zM151.5,239.6l3.6,6.6h-7.2zM153.9,239.5l3.6,6.6h-7.2zM156.4,239.3l3.6,6.6h-7.2zM158.8,239.2l3.6,6.6h-7.2zM161.3,239.0l3.6,6.6h-7.2zM163.7,238.9l3.6,6.6h-7.2zM166.2,238.8l3.6,6.6h-7.2zM168.6,238.6l3.6,6.6h-7.2zM171.1,238.5l3.6,6.6h-7.2zM173.5,238.4l3.6,6.6h-7.2zM176.0,238.2l3.6,6.6h-7.2zM178.4,238.1l3.6,6.6h-7.2zM180.9,237.9l3.6,6.6h-7.2zM183.3,237.8l3.6,6.6h-7.2zM185.8,237.7l3.6,6.6h-7.2zM188.2,237.5l3.6,6.6h-7.2zM190.7,237.4l3.6,6.6h-7.2zM193.1,237.2l3.6,6.6h-7.2zM195.6,237.1l3.6,6.6h-7.2zM198.0,237.0l3.6,6.6h-7.2zM200.5,236.8l3.6,6.6h-7.2zM202.9,236.7l3.6,6.6h-7.2zM205.4,236.6l3.6,6.6h-7.2zM207.8,236.4l3.6,6.6h-7.2zM210.3,236.3l3.6,6.6h-7.2zM212.7,236.1l3.6,6.6h-7.2zM215.2,236.0l3.6,6.6h-7.2zM217.6,235.9l3.6,6.6h-7.2zM220.1,235.7l3.6,6.6h-7.2zM222.5,235.6l3.6,6.6h-7.2zM225.0,235.5l3.6,6.6h-7.2zM227.4,235.3l3.6,6.6h-7.2zM229.9,235.2l3.6,6.6h-7.2zM232.3,235.0l3.6,6.6h-7.2zM234.8,234.9l3.6,6.6h-7.2zM237.2,234.8l3.6,6.6h-7.2zM239.7,234.6l3.6,6.6h-7.2zM242.1,234.5l3.6,6.6h-7.2zM244.6,234.3l3.6,6.6h-7.2zM247.0,234.2l3.6,6.6h-7.2zM249.5,234.1l3.6,6.6h-7.2zM251.9,233.9l3.6,6.6h-7.2zM254.4,233.8l3.6,6.6h-7.2zM256.8,233.7l3.6,6.6h-7.2zM259.3,233.5l3.6,6.6h-7.2zM261.7,233.4l3.6,6.6h-7.2zM264.2,233.2l3.6,6.6h-7.2zM266.6,233.1l3.6,6.6h-7.2zM269.1,233.0l3.6,6.6h-7.2zM271.5,232.8l3.6,6.6h-7.2zM274.0,232.6l3.6,6.6h-7.2zM276.4,232.4l3.6,6.6h-7.2zM278.9,232.2l3.6,6.6h-7.2zM281.3,231.9l3.6,6.6h-7.2zM283.8,231.7l3.6,6.6h-7.2zM286.2,231.5l3.6,6.6h-7.2zM288.7,231.3l3.6,6.6h-7.2zM291.1,231.0l3.6,6.6h-7.2zM293.6,230.8l3.6,6.6h-7.2zM296.0,230.6l3.6,6.6h-7.2zM298.5,230.4l3.6,6.6h-7.2zM300.9,230.1l3.6,6.6h-7.2zM303.4,229.9l3.6,6.6h-7.2zM305.8,229.7l3.6,6.6h-7.2zM308.3,229.5l3.6,6.6h-7.2zM310.7,228.9l3.6,6.6h-7.2zM313.2,228.3l3.6,6.6h-7.2zM315.6,227.6l3.6,6.6h-7.2zM318.1,226.9l3.6,6.6h-7.2zM320.5,226.5l3.6,6.6h-7.2zM323.0,226.2l3.6,6.6h-7.2zM325.4,225.9l3.6,6.6h-7.2zM327.9,225.6l3.6,6.6h-7.2zM330.3,225.3l3.6,6.6h-7.2zM332.8,225.0l3.6,6.6h-7.2zM335.2,224.7l3.6,6.6h-7.2zM337.7,224.4l3.6,6.6h-7.2zM340.1,223.9l3.6,6.6h-7.2zM342.6,223.4l3.6,6.6h-7.2zM345.0,222.9l3.6,6.6h-7.2zM347.5,222.4l3.6,6.6h-7.2zM349.9,221.9l3.6,6.6h-7.2zM352.4,221.4l3.6,6.6h-7.2zM354.8,220.9l3.6,6.6h-7.2zM357.3,220.1l3.6,6.6h-7.2zM359.7,219.1l3.6,6.6h-7.2zM362.2,218.1l3.6,6.6h-7.2zM364.6,217.1l3.6,6.6h-7.2zM367.1,215.3l3.6,6.6h-7.2zM370.9,209.9l3.6,6.6h-7.2zM373.3,200.8l3.6,6.6h-7.2zM376.4,136.3l3.6,6.6h-7.2zM379.2,45.5l3.6,6.6h-7.2zM381.6,45.3l3.6,6.6h-7.2zM384.1,45.1l3.6,6.6h-7.2zM386.5,45.0l3.6,6.6h-7.2zM388.9,44.8l3.6,6.6h-7.2zM391.4,44.6l3.6,6.6h-7.2z" fill="#0000ee"/>
<rect x="92.0" y="13.0" width="359.2" height="267.2" fill="none" stroke="#2e2e2e" stroke-width="1.3"/>
<path d="M92.0,146.4H451.2M271.7,13.0V280.2" stroke="#2e2e2e" stroke-width="1.25" fill="none"/>
<path d="M92.0,280.2v4.9M121.9,280.2v2.6M151.9,280.2v4.9M181.8,280.2v2.6M211.7,280.2v4.9M241.7,280.2v2.6M271.6,280.2v4.9M301.5,280.2v2.6M331.5,280.2v4.9M361.4,280.2v2.6M391.3,280.2v4.9M421.3,280.2v2.6M451.2,280.2v4.9M92.0,13.0h-4.9M92.0,35.3h-2.6M92.0,57.5h-4.9M92.0,79.8h-2.6M92.0,102.1h-4.9M92.0,124.3h-2.6M92.0,146.6h-4.9M92.0,168.9h-2.6M92.0,191.1h-4.9M92.0,213.4h-2.6M92.0,235.7h-4.9M92.0,257.9h-2.6M92.0,280.2h-4.9" stroke="#2e2e2e" stroke-width="1.25" fill="none"/>
<g font-size="11.7" fill="#111" stroke="#111" stroke-width="0.2" text-anchor="middle">
<text x="91.7" y="298.1">-3</text>
<text x="151.6" y="298.1">-2</text>
<text x="211.4" y="298.1">-1</text>
<text x="271.6" y="298.1">0</text>
<text x="331.5" y="298.1">1</text>
<text x="391.3" y="298.1">2</text>
<text x="451.2" y="298.1">3</text>
</g>
<g font-size="11.7" fill="#111" stroke="#111" stroke-width="0.2" text-anchor="end">
<text x="83.6" y="16.6">1.5</text>
<text x="83.6" y="61.1">1.0</text>
<text x="83.6" y="105.7">0.5</text>
<text x="83.6" y="150.2">0.0</text>
<text x="83.6" y="194.7">-0.5</text>
<text x="83.6" y="239.3">-1.0</text>
<text x="83.6" y="283.8">-1.5</text>
</g>
<g font-size="13.3" fill="#111" stroke="#111" stroke-width="0.25">
<text x="143.3" y="320.8">Electric Field</text>
<text x="228.6" y="320.8">E/E</text>
<text x="251.2" y="326.0" font-size="8.0">0</text>
<text x="262.4" y="320.8">E</text>
<text x="271.6" y="326.0" font-size="8.0">0</text>
<text x="276.8" y="320.8">=9.65×10</text>
<text x="333.8" y="314.4" font-size="8.4">6</text>
<text x="343.3" y="320.8">V/m</text>
</g>
<g font-size="13.3" fill="#111" stroke="#111" stroke-width="0.25" transform="translate(51.1,0) rotate(-90)">
<text x="-223.6" y="0">Polarization</text>
<text x="-149.4" y="0">P/P</text>
<text x="-126.8" y="4.6" font-size="8.4">0</text>
<text x="-118.8" y="0">P</text>
<text x="-108.9" y="4.6" font-size="8.4">0</text>
<text x="-103.5" y="0">=0.26C/m</text>
<text x="-45.0" y="-6.0" font-size="8.4">2</text>
</g>
<rect x="374.2" y="240" width="74.3" height="35.5" fill="#fff" stroke="#2e2e2e" stroke-width="0.9"/>
<path d="M380.9,248.2H400.4" stroke="#000" stroke-width="0.7"/>
<rect x="388.3" y="245.79999999999998" width="4.8" height="4.8" fill="#000"/>
<text x="403.6" y="251.5" font-size="8.8" fill="#111">a=16 b=32</text>
<path d="M380.9,259.1H400.4" stroke="#ee0000" stroke-width="0.7"/>
<circle cx="390.7" cy="259.1" r="2.9" fill="#ee0000"/>
<text x="403.6" y="262.4" font-size="8.8" fill="#111">a=32 b=16</text>
<path d="M380.9,269.8H400.4" stroke="#0000ee" stroke-width="0.7"/>
<path d="M390.7,266.1l3.6,6.6h-7.2z" fill="#0000ee"/>
<text x="403.6" y="273.1" font-size="8.8" fill="#111">r=0</text>
<g font-size="14.6" fill="#111">
<text x="244.9" y="345.7" textLength="17.5" lengthAdjust="spacingAndGlyphs">(a)</text>
<text x="245.1" y="538.6" textLength="18" lengthAdjust="spacingAndGlyphs">(b)</text>
<text x="244.4" y="725.8" textLength="16.3" lengthAdjust="spacingAndGlyphs">(c)</text>
</g>
<clipPath id="cpb1"><rect x="0" y="0" width="136.4" height="135.7"/></clipPath>
<g transform="translate(8.7,366.6)">
<g clip-path="url(#cpb1)">
<rect width="136.4" height="135.7" fill="#f6f06a"/>
<rect width="136.4" height="135.7" fill="url(#ph)"/>
<polygon points="119.4,0.0 76.0,40.5 86.0,70.0 125.6,22.6 125.6,0.0" fill="#69a567" stroke="#3f7f35" stroke-width="0.7" stroke-linejoin="round"/><polygon points="119.4,0.0 76.0,40.5 86.0,70.0 125.6,22.6 125.6,0.0" fill="url(#pvd)"/><polygon points="17.0,135.7 60.4,95.2 50.4,65.7 10.8,113.1 10.8,135.7" fill="#69a567" stroke="#3f7f35" stroke-width="0.7" stroke-linejoin="round"/><polygon points="17.0,135.7 60.4,95.2 50.4,65.7 10.8,113.1 10.8,135.7" fill="url(#pvd)"/><polygon points="9.0,0.0 21.4,0.0 57.0,40.5 51.0,71.0 9.5,23.8" fill="#64ea6a" stroke="#46b046" stroke-width="0.7" stroke-linejoin="round"/><polygon points="9.0,0.0 21.4,0.0 57.0,40.5 51.0,71.0 9.5,23.8" fill="url(#pvl)"/><polygon points="127.4,135.7 115.0,135.7 79.4,95.2 85.4,64.7 126.9,111.9" fill="#64ea6a" stroke="#46b046" stroke-width="0.7" stroke-linejoin="round"/><polygon points="127.4,135.7 115.0,135.7 79.4,95.2 85.4,64.7 126.9,111.9" fill="url(#pvl)"/><polygon points="125.6,0.0 136.4,0.0 136.4,14.5 128.5,22.0 125.6,22.6" fill="#64ea6a" stroke="#46b046" stroke-width="0.6"/><polygon points="10.8,135.7 0.0,135.7 0.0,121.2 7.9,113.7 10.8,113.1" fill="#64ea6a" stroke="#46b046" stroke-width="0.6"/><polygon points="136.4,14.0 136.4,21.5 129.2,21.5" fill="#e2a052"/><polygon points="0.0,121.7 0.0,114.2 7.2,114.2" fill="#e2a052"/><polygon points="0.0,0.0 9.0,0.0 10.5,10.0 9.5,24.0 0.0,24.0" fill="#6c9c78"/><polygon points="136.4,135.7 127.4,135.7 125.9,125.7 126.9,111.7 136.4,111.7" fill="#6c9c78"/><polygon points="4.5,0.5 8.6,0.5 8.2,9.0 6.2,9.5" fill="#64ea6a"/><polygon points="131.9,135.2 127.8,135.2 128.2,126.7 130.2,126.2" fill="#64ea6a"/><polygon points="10.8,6.5 13.6,10.5 10.2,14.5 8.0,10.5" fill="#e2a052"/><polygon points="125.6,129.2 122.8,125.2 126.2,121.2 128.4,125.2" fill="#e2a052"/><polygon points="0.5,18.5 5.5,17.5 7.0,23.5 0.5,24.5" fill="#e2a052"/><polygon points="135.9,117.2 130.9,118.2 129.4,112.2 135.9,111.2" fill="#e2a052"/><polygon points="2.2,0.5 3.6,0.5 9.3,22.5 8.3,23.5" fill="#2f6e34"/><polygon points="134.2,135.2 132.8,135.2 127.1,113.2 128.1,112.2" fill="#2f6e34"/><polygon points="14.2,0.8 15.8,0.8 10.4,15.2 9.4,14.4" fill="#2f6e34"/><polygon points="122.2,134.9 120.6,134.9 126.0,120.5 127.0,121.3" fill="#2f6e34"/>
<ellipse cx="68.4" cy="68.0" rx="19.4" ry="33.9" fill="#a9b24a" filter="url(#bl0)"/>
<ellipse cx="68.4" cy="68.0" rx="18.599999999999998" ry="33.1" fill="#ffffff"/>
<ellipse cx="68.4" cy="68.0" rx="17.4" ry="31.9" fill="url(#pdot)"/>
</g>
<rect x="0.3" y="0.3" width="135.8" height="135.1" fill="none" stroke="#aaa42c" stroke-width="0.9"/>
</g>
<clipPath id="cpb2"><rect x="0" y="0" width="135.3" height="135.5"/></clipPath>
<g transform="translate(182.3,367.0)">
<g clip-path="url(#cpb2)">
<rect width="135.3" height="135.5" fill="#f6f06a"/>
<rect width="135.3" height="135.5" fill="url(#ph)"/>
<polygon points="120.3,0.0 125.2,0.0 125.2,21.0 107.8,41.0 87.0,67.0 80.0,43.0" fill="#69a567" stroke="#3f7f35" stroke-width="0.7" stroke-linejoin="round"/><polygon points="120.3,0.0 125.2,0.0 125.2,21.0 107.8,41.0 87.0,67.0 80.0,43.0" fill="url(#pvd)"/><polygon points="15.0,135.5 10.1,135.5 10.1,114.5 27.5,94.5 48.3,68.5 55.3,92.5" fill="#69a567" stroke="#3f7f35" stroke-width="0.7" stroke-linejoin="round"/><polygon points="15.0,135.5 10.1,135.5 10.1,114.5 27.5,94.5 48.3,68.5 55.3,92.5" fill="url(#pvd)"/><polygon points="8.0,0.0 14.0,0.0 15.7,2.4 18.4,6.2 21.1,10.0 24.4,14.4 28.2,17.6 32.6,21.4 35.9,26.4 38.6,30.2 43.5,34.0 49.0,38.3 54.4,41.6 60.0,44.0 56.0,52.0 50.0,47.1 44.6,43.8 39.1,41.1 33.7,38.9 29.3,37.8 25.0,36.2 20.6,34.0 17.9,30.2 14.1,26.4 10.2,21.4 9.2,16.5 8.0,8.0" fill="#64ea6a" stroke="#46b046" stroke-width="0.7" stroke-linejoin="round"/><polygon points="8.0,0.0 14.0,0.0 15.7,2.4 18.4,6.2 21.1,10.0 24.4,14.4 28.2,17.6 32.6,21.4 35.9,26.4 38.6,30.2 43.5,34.0 49.0,38.3 54.4,41.6 60.0,44.0 56.0,52.0 50.0,47.1 44.6,43.8 39.1,41.1 33.7,38.9 29.3,37.8 25.0,36.2 20.6,34.0 17.9,30.2 14.1,26.4 10.2,21.4 9.2,16.5 8.0,8.0" fill="url(#pvl)"/><polygon points="127.3,135.5 121.3,135.5 119.6,133.1 116.9,129.3 114.2,125.5 110.9,121.1 107.1,117.9 102.7,114.1 99.4,109.1 96.7,105.3 91.8,101.5 86.3,97.2 80.9,93.9 75.3,91.5 79.3,83.5 85.3,88.4 90.7,91.7 96.2,94.4 101.6,96.6 106.0,97.7 110.3,99.3 114.7,101.5 117.4,105.3 121.2,109.1 125.1,114.1 126.1,119.0 127.3,127.5" fill="#64ea6a" stroke="#46b046" stroke-width="0.7" stroke-linejoin="round"/><polygon points="127.3,135.5 121.3,135.5 119.6,133.1 116.9,129.3 114.2,125.5 110.9,121.1 107.1,117.9 102.7,114.1 99.4,109.1 96.7,105.3 91.8,101.5 86.3,97.2 80.9,93.9 75.3,91.5 79.3,83.5 85.3,88.4 90.7,91.7 96.2,94.4 101.6,96.6 106.0,97.7 110.3,99.3 114.7,101.5 117.4,105.3 121.2,109.1 125.1,114.1 126.1,119.0 127.3,127.5" fill="url(#pvl)"/><polygon points="28.2,41.6 29.3,41.1 35.9,42.7 41.3,46.0 46.8,49.3 52.2,50.4 58.0,55.0 54.0,68.0 48.0,62.0 43.5,56.9 38.0,53.6 33.7,50.3 30.4,46.0" fill="#64ea6a" stroke="#46b046" stroke-width="0.7" stroke-linejoin="round"/><polygon points="28.2,41.6 29.3,41.1 35.9,42.7 41.3,46.0 46.8,49.3 52.2,50.4 58.0,55.0 54.0,68.0 48.0,62.0 43.5,56.9 38.0,53.6 33.7,50.3 30.4,46.0" fill="url(#pvl)"/><polygon points="107.1,93.9 106.0,94.4 99.4,92.8 94.0,89.5 88.5,86.2 83.1,85.1 77.3,80.5 81.3,67.5 87.3,73.5 91.8,78.6 97.3,81.9 101.6,85.2 104.9,89.5" fill="#64ea6a" stroke="#46b046" stroke-width="0.7" stroke-linejoin="round"/><polygon points="107.1,93.9 106.0,94.4 99.4,92.8 94.0,89.5 88.5,86.2 83.1,85.1 77.3,80.5 81.3,67.5 87.3,73.5 91.8,78.6 97.3,81.9 101.6,85.2 104.9,89.5" fill="url(#pvl)"/><polygon points="56.0,40.0 50.0,48.0 47.5,58.0 48.0,68.0 51.0,70.0 51.0,58.0 53.0,49.0 58.0,42.0" fill="#64ea6a" stroke="#46b046" stroke-width="0.7" stroke-linejoin="round"/><polygon points="56.0,40.0 50.0,48.0 47.5,58.0 48.0,68.0 51.0,70.0 51.0,58.0 53.0,49.0 58.0,42.0" fill="url(#pvl)"/><polygon points="79.3,95.5 85.3,87.5 87.8,77.5 87.3,67.5 84.3,65.5 84.3,77.5 82.3,86.5 77.3,93.5" fill="#64ea6a" stroke="#46b046" stroke-width="0.7" stroke-linejoin="round"/><polygon points="79.3,95.5 85.3,87.5 87.8,77.5 87.3,67.5 84.3,65.5 84.3,77.5 82.3,86.5 77.3,93.5" fill="url(#pvl)"/><polygon points="125.2,0.0 135.3,0.0 135.3,15.0 129.0,21.0 125.2,21.5" fill="#64ea6a" stroke="#46b046" stroke-width="0.6"/><polygon points="10.1,135.5 0.0,135.5 0.0,120.5 6.3,114.5 10.1,114.0" fill="#64ea6a" stroke="#46b046" stroke-width="0.6"/><polygon points="135.3,15.0 135.3,22.0 128.6,22.0" fill="#e2a052"/><polygon points="0.0,120.5 0.0,113.5 6.7,113.5" fill="#e2a052"/><polygon points="0.0,0.0 8.5,0.0 9.5,9.0 9.0,21.0 0.0,21.0" fill="#5a9458"/><polygon points="135.3,135.5 126.8,135.5 125.8,126.5 126.3,114.5 135.3,114.5" fill="#5a9458"/><polygon points="3.2,0.5 7.5,0.5 8.6,9.0 7.0,15.5 4.6,9.0" fill="#64ea6a"/><polygon points="132.1,135.0 127.8,135.0 126.7,126.5 128.3,120.0 130.7,126.5" fill="#64ea6a"/><polygon points="8.0,8.9 11.9,9.5 10.8,13.3 7.6,12.4" fill="#e2a052"/><polygon points="127.3,126.6 123.4,126.0 124.5,122.2 127.7,123.1" fill="#e2a052"/><polygon points="0.6,17.6 8.2,17.9 8.8,22.3 1.0,22.8" fill="#e2a052"/><polygon points="134.7,117.9 127.1,117.6 126.5,113.2 134.3,112.7" fill="#e2a052"/><polygon points="14.5,21.5 18.5,21.0 18.0,23.0 14.5,23.5" fill="#e8b060"/><polygon points="120.8,114.0 116.8,114.5 117.3,112.5 120.8,112.0" fill="#e8b060"/><polygon points="32.0,35.5 35.0,35.0 35.5,37.0 32.5,37.5" fill="#e8b060"/><polygon points="103.3,100.0 100.3,100.5 99.8,98.5 102.8,98.0" fill="#e8b060"/>
<ellipse cx="67.3" cy="67.6" rx="18.5" ry="32.5" fill="#a9b24a" filter="url(#bl0)"/>
<ellipse cx="67.3" cy="67.6" rx="17.7" ry="31.7" fill="#ffffff"/>
<ellipse cx="67.3" cy="67.6" rx="16.5" ry="30.5" fill="url(#pdot)"/>
</g>
<rect x="0.3" y="0.3" width="134.70000000000002" height="134.9" fill="none" stroke="#aaa42c" stroke-width="0.9"/>
</g>
<clipPath id="cpc1"><rect x="0" y="0" width="136.2" height="135.0"/></clipPath>
<g transform="translate(9.0,557.0)">
<g clip-path="url(#cpc1)">
<rect width="136.2" height="135.0" fill="#f6f06a"/>
<rect width="136.2" height="135.0" fill="url(#ph)"/>
<polygon points="125.0,0.0 136.2,0.0 136.2,17.1 125.0,30.2 116.3,38.9 104.6,49.1 97.4,52.0 92.3,49.1 92.3,38.9 97.4,30.2 109.0,17.1 119.2,6.9" fill="#69a567" stroke="#3f7f35" stroke-width="0.7" stroke-linejoin="round"/><polygon points="125.0,0.0 136.2,0.0 136.2,17.1 125.0,30.2 116.3,38.9 104.6,49.1 97.4,52.0 92.3,49.1 92.3,38.9 97.4,30.2 109.0,17.1 119.2,6.9" fill="url(#pvd)"/><polygon points="11.2,135.0 0.0,135.0 0.0,117.9 11.2,104.8 19.9,96.1 31.6,85.9 38.8,83.0 43.9,85.9 43.9,96.1 38.8,104.8 27.2,117.9 17.0,128.1" fill="#69a567" stroke="#3f7f35" stroke-width="0.7" stroke-linejoin="round"/><polygon points="11.2,135.0 0.0,135.0 0.0,117.9 11.2,104.8 19.9,96.1 31.6,85.9 38.8,83.0 43.9,85.9 43.9,96.1 38.8,104.8 27.2,117.9 17.0,128.1" fill="url(#pvd)"/><polygon points="0.0,0.0 16.4,0.0 22.1,8.7 29.1,19.5 36.7,29.7 43.1,38.0 45.6,44.4 46.0,52.0 42.0,60.0 35.5,53.3 29.1,46.9 21.5,39.3 13.8,32.9 5.5,26.5 0.0,22.1" fill="#64ea6a" stroke="#46b046" stroke-width="0.7" stroke-linejoin="round"/><polygon points="0.0,0.0 16.4,0.0 22.1,8.7 29.1,19.5 36.7,29.7 43.1,38.0 45.6,44.4 46.0,52.0 42.0,60.0 35.5,53.3 29.1,46.9 21.5,39.3 13.8,32.9 5.5,26.5 0.0,22.1" fill="url(#pvl)"/><polygon points="136.2,135.0 119.8,135.0 114.1,126.3 107.1,115.5 99.5,105.3 93.1,97.0 90.6,90.6 90.2,83.0 94.2,75.0 100.7,81.7 107.1,88.1 114.7,95.7 122.4,102.1 130.7,108.5 136.2,112.9" fill="#64ea6a" stroke="#46b046" stroke-width="0.7" stroke-linejoin="round"/><polygon points="136.2,135.0 119.8,135.0 114.1,126.3 107.1,115.5 99.5,105.3 93.1,97.0 90.6,90.6 90.2,83.0 94.2,75.0 100.7,81.7 107.1,88.1 114.7,95.7 122.4,102.1 130.7,108.5 136.2,112.9" fill="url(#pvl)"/><polygon points="8.7,38.0 15.1,46.9 22.7,54.5 31.6,62.2 36.0,68.0 29.1,64.5 21.5,56.8 14.5,49.5 9.0,40.5" fill="#64ea6a" stroke="#46b046" stroke-width="0.5"/><polygon points="127.5,97.0 121.1,88.1 113.5,80.5 104.6,72.8 100.2,67.0 107.1,70.5 114.7,78.2 121.7,85.5 127.2,94.5" fill="#64ea6a" stroke="#46b046" stroke-width="0.5"/><polygon points="104.6,60.7 111.9,54.9 119.2,47.6 125.0,41.8 127.9,37.5 126.5,43.3 119.2,52.0 110.5,60.7 103.2,65.1" fill="#58b052" stroke="#3f7f35" stroke-width="0.5"/><polygon points="31.6,74.3 24.3,80.1 17.0,87.4 11.2,93.2 8.3,97.5 9.7,91.7 17.0,83.0 25.7,74.3 33.0,69.9" fill="#58b052" stroke="#3f7f35" stroke-width="0.5"/><polygon points="45.5,45.0 48.7,32.3 55.1,24.0 55.7,32.3 52.5,43.7 48.1,51.0" fill="#69a567" stroke="#3f7f35" stroke-width="0.4"/><polygon points="90.7,90.0 87.5,102.7 81.1,111.0 80.5,102.7 83.7,91.3 88.1,84.0" fill="#69a567" stroke="#3f7f35" stroke-width="0.4"/><polygon points="55.1,24.0 57.0,28.5 58.3,36.0 56.0,41.0 55.7,32.3" fill="#64ea6a" stroke="#46b046" stroke-width="0.4"/><polygon points="81.1,111.0 79.2,106.5 77.9,99.0 80.2,94.0 80.5,102.7" fill="#64ea6a" stroke="#46b046" stroke-width="0.4"/><polygon points="59.5,23.4 67.2,11.9 67.8,17.0 65.3,23.4 62.1,27.2" fill="#69a567" stroke="#3f7f35" stroke-width="0.4"/><polygon points="76.7,111.6 69.0,123.1 68.4,118.0 70.9,111.6 74.1,107.8" fill="#69a567" stroke="#3f7f35" stroke-width="0.4"/><polygon points="67.2,11.9 71.6,17.0 75.5,23.4 78.0,28.5 74.2,25.9 70.4,20.8 67.8,17.0" fill="#64ea6a" stroke="#46b046" stroke-width="0.4"/><polygon points="69.0,123.1 64.6,118.0 60.7,111.6 58.2,106.5 62.0,109.1 65.8,114.2 68.4,118.0" fill="#64ea6a" stroke="#46b046" stroke-width="0.4"/><polygon points="79.3,24.0 85.6,32.3 89.5,39.9 90.1,46.3 86.3,51.5 81.8,41.2 79.9,32.3" fill="#64ea6a" stroke="#46b046" stroke-width="0.4"/><polygon points="56.9,111.0 50.6,102.7 46.7,95.1 46.1,88.7 49.9,83.5 54.4,93.8 56.3,102.7" fill="#64ea6a" stroke="#46b046" stroke-width="0.4"/><polygon points="75.5,24.6 79.3,24.0 79.9,32.3 77.4,31.0" fill="#69a567" stroke="#3f7f35" stroke-width="0.4"/><polygon points="60.7,110.4 56.9,111.0 56.3,102.7 58.8,104.0" fill="#69a567" stroke="#3f7f35" stroke-width="0.4"/><polygon points="55.1,41.2 58.3,38.6 62.7,46.3 60.8,49.0" fill="#64ea6a" stroke="#46b046" stroke-width="0.4"/><polygon points="81.1,93.8 77.9,96.4 73.5,88.7 75.4,86.0" fill="#64ea6a" stroke="#46b046" stroke-width="0.4"/><polygon points="65.3,47.5 69.1,38.6 72.9,45.0 70.4,49.0" fill="#64ea6a" stroke="#46b046" stroke-width="0.4"/><polygon points="70.9,87.5 67.1,96.4 63.3,90.0 65.8,86.0" fill="#64ea6a" stroke="#46b046" stroke-width="0.4"/><polygon points="74.2,46.0 78.0,39.9 80.5,47.5" fill="#64ea6a" stroke="#46b046" stroke-width="0.4"/><polygon points="62.0,89.0 58.2,95.1 55.7,87.5" fill="#64ea6a" stroke="#46b046" stroke-width="0.4"/><polygon points="4.3,0.5 10.6,0.5 7.9,11.3" fill="#6a8c68"/><polygon points="131.9,134.5 125.6,134.5 128.3,123.7" fill="#6a8c68"/><polygon points="133.0,0.0 136.2,0.0 136.2,3.0" fill="#e2a052"/><polygon points="3.2,135.0 0.0,135.0 0.0,132.0" fill="#e2a052"/><polygon points="120.6,0.4 125.0,0.4 122.0,4.0" fill="#64ea6a"/><polygon points="15.6,134.6 11.2,134.6 14.2,131.0" fill="#64ea6a"/>
<ellipse cx="68.1" cy="67.5" rx="36.5" ry="18.9" fill="#a9b24a" filter="url(#bl0)"/>
<ellipse cx="68.1" cy="67.5" rx="35.7" ry="18.099999999999998" fill="#ffffff"/>
<ellipse cx="68.1" cy="67.5" rx="34.5" ry="16.9" fill="url(#pdot)"/>
</g>
<rect x="0.3" y="0.3" width="135.6" height="134.4" fill="none" stroke="#aaa42c" stroke-width="0.9"/>
</g>
<clipPath id="cpc2"><rect x="0" y="0" width="136.4" height="135.6"/></clipPath>
<g transform="translate(185.2,557.0)">
<g clip-path="url(#cpc2)">
<rect width="136.4" height="135.6" fill="#f6f06a"/>
<rect width="136.4" height="135.6" fill="url(#ph)"/>
<polygon points="0.0,0.0 7.0,0.0 5.4,5.6 10.5,12.0 16.9,18.4 23.3,25.4 29.6,33.6 33.4,38.7 28.3,34.9 20.7,28.5 13.1,22.2 6.7,14.5 2.9,8.2 0.0,4.0" fill="#64ea6a" stroke="#46b046" stroke-width="0.5"/><polygon points="136.4,135.2 129.4,135.2 131.0,129.6 125.9,123.2 119.5,116.8 113.1,109.8 106.8,101.6 103.0,96.5 108.1,100.3 115.7,106.7 123.3,113.0 129.7,120.7 133.5,127.0 136.4,131.2" fill="#64ea6a" stroke="#46b046" stroke-width="0.5"/><polygon points="127.3,0.0 136.4,0.0 136.4,6.9 128.8,17.1 120.1,25.8 108.4,34.5 99.0,39.6 105.5,31.6 114.3,20.0 123.0,8.4" fill="#69a567" stroke="#3f7f35" stroke-width="0.7" stroke-linejoin="round"/><polygon points="127.3,0.0 136.4,0.0 136.4,6.9 128.8,17.1 120.1,25.8 108.4,34.5 99.0,39.6 105.5,31.6 114.3,20.0 123.0,8.4" fill="url(#pvd)"/><polygon points="9.1,135.2 0.0,135.2 0.0,128.3 7.6,118.1 16.3,109.4 28.0,100.7 37.4,95.6 30.9,103.6 22.1,115.2 13.4,126.8" fill="#69a567" stroke="#3f7f35" stroke-width="0.7" stroke-linejoin="round"/><polygon points="9.1,135.2 0.0,135.2 0.0,128.3 7.6,118.1 16.3,109.4 28.0,100.7 37.4,95.6 30.9,103.6 22.1,115.2 13.4,126.8" fill="url(#pvd)"/><polygon points="2.5,0.3 8.0,0.3 5.0,3.8" fill="#3f7f3a"/><polygon points="133.9,134.9 128.4,134.9 131.4,131.4" fill="#3f7f3a"/><polygon points="133.2,0.4 136.4,0.4 136.4,6.9" fill="#64ea6a"/><polygon points="3.2,134.8 0.0,134.8 0.0,128.3" fill="#64ea6a"/><polygon points="101.5,64.8 103.5,61.8 108.5,60.4 105.5,63.2 103.0,65.8" fill="#69a567"/><polygon points="34.9,70.4 32.9,73.4 27.9,74.8 30.9,72.0 33.4,69.4" fill="#69a567"/><polygon points="33.2,61.5 35.6,60.2 36.4,62.6 34.4,64.0" fill="#64ea6a"/><polygon points="103.2,73.7 100.8,75.0 100.0,72.6 102.0,71.2" fill="#64ea6a"/><polygon points="33.2,73.7 35.6,75.0 36.4,72.6 34.4,71.2" fill="#64ea6a"/><polygon points="103.2,61.5 100.8,60.2 100.0,62.6 102.0,64.0" fill="#64ea6a"/><polygon points="34.6,63.5 36.6,63.5 36.6,71.5 34.6,71.5" fill="#4f9a48"/><polygon points="101.8,71.7 99.8,71.7 99.8,63.7 101.8,63.7" fill="#4f9a48"/><ellipse cx="26" cy="67.6" rx="8" ry="4.2" fill="#f9f47c" opacity="0.8"/><ellipse cx="110.4" cy="67.6" rx="8" ry="4.2" fill="#f9f47c" opacity="0.8"/>
<ellipse cx="68.2" cy="67.0" rx="36.2" ry="19.2" fill="#c2bb3a" filter="url(#bl0)"/>
<ellipse cx="68.2" cy="67.6" rx="35.1" ry="17.9" fill="#a9b24a" filter="url(#bl0)"/>
<ellipse cx="68.2" cy="67.6" rx="34.300000000000004" ry="17.099999999999998" fill="#ffffff"/>
<ellipse cx="68.2" cy="67.6" rx="33.1" ry="15.899999999999999" fill="url(#pdot)"/>
</g>
<rect x="0.3" y="0.3" width="135.8" height="135.0" fill="none" stroke="#aaa42c" stroke-width="0.9"/>
</g>
<clipPath id="cpb3"><rect x="0" y="0" width="134.7" height="135.8"/></clipPath>
<g transform="translate(349.9,365.5)"><g clip-path="url(#cpb3)">
<rect x="-5" y="-5" width="144.7" height="145.8" fill="#aaf622"/>
<g filter="url(#bl3)"><polygon points="-8.0,16.0 18.0,67.9 -8.0,119.8" fill="#f2f420"/><polygon points="142.7,119.8 116.7,67.9 142.7,16.0" fill="#f2f420"/></g>
<g filter="url(#bl2)" opacity="0.95"><polygon points="-3.0,19.0 3.0,15.0 44.0,58.0 38.0,64.0 -3.0,27.0" fill="#f2f420"/><polygon points="-3.0,116.8 3.0,120.8 44.0,77.8 38.0,71.8 -3.0,108.8" fill="#f2f420"/><polygon points="137.7,116.8 131.7,120.8 90.7,77.8 96.7,71.8 137.7,108.8" fill="#f2f420"/><polygon points="137.7,19.0 131.7,15.0 90.7,58.0 96.7,64.0 137.7,27.0" fill="#f2f420"/></g>
<g filter="url(#bl3)" opacity="0.6"><polygon points="61.3,-6.0 73.3,-6.0 76.3,34.0 58.3,34.0" fill="#62ee3c"/><polygon points="73.3,141.8 61.3,141.8 58.3,101.8 76.3,101.8" fill="#62ee3c"/></g>
<g filter="url(#bl2)" opacity="0.7"><polygon points="15.0,-4.0 22.0,-4.0 58.0,34.0 54.0,38.0" fill="#d4f622"/><polygon points="119.7,-4.0 112.7,-4.0 76.7,34.0 80.7,38.0" fill="#d4f622"/><polygon points="119.7,139.8 112.7,139.8 76.7,101.8 80.7,97.8" fill="#d4f622"/><polygon points="15.0,139.8 22.0,139.8 58.0,101.8 54.0,97.8" fill="#d4f622"/></g>
<g filter="url(#bl1)"><polygon points="-2.0,-2.0 13.0,-2.0 59.0,43.0 67.3,67.9 47.0,70.0 -2.0,17.5" fill="#5cf074"/><polygon points="136.7,137.8 121.7,137.8 75.7,92.8 67.3,67.9 87.7,65.8 136.7,118.3" fill="#5cf074"/><polygon points="136.7,-2.0 121.7,-2.0 75.7,43.0 67.3,67.9 87.7,70.0 136.7,17.5" fill="#5cf074"/><polygon points="-2.0,137.8 13.0,137.8 59.0,92.8 67.3,67.9 47.0,65.8 -2.0,118.3" fill="#5cf074"/></g>
<g filter="url(#bl0)"><polygon points="-2.0,-2.0 10.0,-2.0 56.5,42.5 67.3,67.9 49.0,68.0 -2.0,13.5" fill="#26efe2"/><polygon points="136.7,137.8 124.7,137.8 78.2,93.3 67.3,67.9 85.7,67.8 136.7,122.3" fill="#26efe2"/><polygon points="136.7,-2.0 124.7,-2.0 78.2,42.5 67.3,67.9 85.7,68.0 136.7,13.5" fill="#26efe2"/><polygon points="-2.0,137.8 10.0,137.8 56.5,93.3 67.3,67.9 49.0,67.8 -2.0,122.3" fill="#26efe2"/></g>
<g filter="url(#bl1)" opacity="0.6"><polygon points="-2.0,-2.0 10.0,-2.0 56.5,42.5 67.3,67.9 49.0,68.0 -2.0,13.5" fill="#26efe2"/><polygon points="136.7,137.8 124.7,137.8 78.2,93.3 67.3,67.9 85.7,67.8 136.7,122.3" fill="#26efe2"/><polygon points="136.7,-2.0 124.7,-2.0 78.2,42.5 67.3,67.9 85.7,68.0 136.7,13.5" fill="#26efe2"/><polygon points="-2.0,137.8 10.0,137.8 56.5,93.3 67.3,67.9 49.0,67.8 -2.0,122.3" fill="#26efe2"/></g>
<circle cx="0" cy="0" r="12" fill="#2ab4f2" filter="url(#bl2)"/>
<circle cx="0" cy="0" r="7" fill="#1c62e6" filter="url(#bl1)"/>
<circle cx="134.7" cy="0" r="12" fill="#2ab4f2" filter="url(#bl2)"/>
<circle cx="134.7" cy="0" r="7" fill="#1c62e6" filter="url(#bl1)"/>
<circle cx="0" cy="135.8" r="12" fill="#2ab4f2" filter="url(#bl2)"/>
<circle cx="0" cy="135.8" r="7" fill="#1c62e6" filter="url(#bl1)"/>
<circle cx="134.7" cy="135.8" r="12" fill="#2ab4f2" filter="url(#bl2)"/>
<circle cx="134.7" cy="135.8" r="7" fill="#1c62e6" filter="url(#bl1)"/>
<ellipse cx="67.35" cy="67.9" rx="19" ry="40" fill="#3ee84a" filter="url(#bl3)" opacity="0.85"/>
<ellipse cx="67.35" cy="67.9" rx="16.5" ry="35.5" fill="#12e62c" filter="url(#bl2)"/>
<ellipse cx="67.35" cy="67.9" rx="14" ry="32" fill="#12e62c" filter="url(#bl1)"/>
</g></g>
<rect x="535.6" y="385.0" width="8.2" height="96.5" fill="url(#cb)"/>
<g font-family="'DejaVu Serif','Liberation Serif',serif" font-size="6.3" fill="#3c3c3c" stroke="#3c3c3c" stroke-width="0.28" text-anchor="end">
<text x="530.4" y="392.6">0.006</text>
<text x="530.4" y="406.3">0.004</text>
<text x="530.4" y="420.0">0.002</text>
<text x="530.4" y="433.7">0.000</text>
<text x="530.4" y="447.4">−0.002</text>
<text x="530.4" y="461.1">−0.004</text>
<text x="530.4" y="474.8">−0.006</text>
</g>
<path d="M535.6,390.3h1.6M535.6,404.0h1.6M535.6,417.7h1.6M535.6,431.4h1.6M535.6,445.1h1.6M535.6,458.8h1.6M535.6,472.5h1.6" stroke="#555" stroke-width="0.5" fill="none"/>
<text transform="translate(499.3,445.6) rotate(-90)" font-family="'DejaVu Serif','Liberation Serif',serif" font-size="8.2" fill="#3c3c3c" stroke="#3c3c3c" stroke-width="0.4">strain</text>
<clipPath id="cpc3"><rect x="0" y="0" width="134.7" height="135.4"/></clipPath>
<g transform="translate(349.9,557.0)"><g clip-path="url(#cpc3)">
<rect x="-5" y="-5" width="144.7" height="145.4" fill="#94f620"/>
<g filter="url(#bl3)" opacity="0.75"><polygon points="-8.0,30.0 30.0,67.7 -8.0,105.4" fill="#ccf620"/><polygon points="142.7,105.4 104.7,67.7 142.7,30.0" fill="#ccf620"/></g>
<g filter="url(#bl3)" opacity="0.7"><polygon points="47.3,-6.0 87.3,-6.0 81.3,40.0 53.3,40.0" fill="#70f030"/><polygon points="87.3,141.4 47.3,141.4 53.3,95.4 81.3,95.4" fill="#70f030"/></g>
<ellipse cx="67.4" cy="67.9" rx="42" ry="29" fill="#58f040" filter="url(#bl3)" opacity="0.9"/>
<g filter="url(#bl1)"><polygon points="-2.0,-2.0 10.5,-2.0 24.5,19.0 42.0,42.0 49.0,52.0 43.0,58.5 32.0,50.0 14.5,31.0 -2.0,13.0" fill="#44f0a0"/><polygon points="136.7,137.4 124.2,137.4 110.2,116.4 92.7,93.4 85.7,83.4 91.7,76.9 102.7,85.4 120.2,104.4 136.7,122.4" fill="#44f0a0"/><polygon points="136.7,-2.0 121.5,-2.0 104.5,20.0 88.0,42.0 84.5,51.5 90.0,56.0 102.0,48.0 121.0,30.5 136.7,14.5" fill="#44f0a0"/><polygon points="-2.0,137.4 13.2,137.4 30.2,115.4 46.7,93.4 50.2,83.9 44.7,79.4 32.7,87.4 13.7,104.9 -2.0,120.9" fill="#44f0a0"/></g>
<g filter="url(#bl0)"><polygon points="-2.0,-2.0 7.0,-2.0 22.4,20.5 40.1,44.1 46.5,52.5 43.5,55.5 33.3,47.6 15.6,28.5 -2.0,9.0" fill="#24e4ee"/><polygon points="136.7,137.4 127.7,137.4 112.3,114.9 94.6,91.3 88.2,82.9 91.2,79.9 101.4,87.8 119.1,106.9 136.7,126.4" fill="#24e4ee"/><polygon points="136.7,-2.0 124.5,-2.0 107.5,21.0 91.0,43.0 87.5,50.5 90.5,52.5 100.0,45.0 118.5,27.5 136.7,10.5" fill="#24e4ee"/><polygon points="-2.0,137.4 10.2,137.4 27.2,114.4 43.7,92.4 47.2,84.9 44.2,82.9 34.7,90.4 16.2,107.9 -2.0,124.9" fill="#24e4ee"/></g>
<g filter="url(#bl2)" opacity="0.85"><polygon points="-2.0,-2.0 4.5,-2.0 20.0,20.0 34.0,38.0 32.5,39.5 17.0,23.0 -2.0,5.0" fill="#2ab8f2"/><polygon points="136.7,137.4 130.2,137.4 114.7,115.4 100.7,97.4 102.2,95.9 117.7,112.4 136.7,130.4" fill="#2ab8f2"/><polygon points="136.7,-2.0 128.0,-2.0 111.0,21.0 97.0,40.0 99.0,42.0 116.0,24.5 136.7,6.5" fill="#2ab8f2"/><polygon points="-2.0,137.4 6.7,137.4 23.7,114.4 37.7,95.4 35.7,93.4 18.7,110.9 -2.0,128.9" fill="#2ab8f2"/></g>
<circle cx="0" cy="0" r="8" fill="#2090f0" filter="url(#bl1)"/>
<circle cx="0" cy="0" r="5" fill="#1838d8" filter="url(#bl1)"/>
<circle cx="134.7" cy="0" r="10.5" fill="#2090f0" filter="url(#bl1)"/>
<circle cx="134.7" cy="0" r="7.5" fill="#1838d8" filter="url(#bl1)"/>
<circle cx="0" cy="135.4" r="10.5" fill="#2090f0" filter="url(#bl1)"/>
<circle cx="0" cy="135.4" r="7.5" fill="#1838d8" filter="url(#bl1)"/>
<circle cx="134.7" cy="135.4" r="8" fill="#2090f0" filter="url(#bl1)"/>
<circle cx="134.7" cy="135.4" r="5" fill="#1838d8" filter="url(#bl1)"/>
<path d="M26.400000000000006,67.9Q67.4,17.900000000000006 108.4,67.9Q67.4,117.9 26.400000000000006,67.9z" fill="#28f064" filter="url(#bl1)"/>
<ellipse cx="67.4" cy="67.9" rx="33.5" ry="17.2" fill="#06ea12" filter="url(#bl1)"/>
<ellipse cx="67.4" cy="67.9" rx="31" ry="15" fill="#04ea10"/>
<g filter="url(#bl1)" opacity="0.8"><polygon points="14.0,60.0 22.0,66.0 28.0,69.0 22.0,70.0 13.0,63.0" fill="#d8f620"/><polygon points="120.7,75.4 112.7,69.4 106.7,66.4 112.7,65.4 121.7,72.4" fill="#d8f620"/><polygon points="20.0,80.0 30.0,72.0 31.0,74.0 22.0,83.0" fill="#5cee40"/><polygon points="114.7,55.4 104.7,63.4 103.7,61.4 112.7,52.4" fill="#5cee40"/></g>
</g></g>
<rect x="535.6" y="576.3" width="8.2" height="96.5" fill="url(#cb)"/>
<g font-family="'DejaVu Serif','Liberation Serif',serif" font-size="6.3" fill="#3c3c3c" stroke="#3c3c3c" stroke-width="0.28" text-anchor="end">
<text x="530.4" y="583.3">0.006</text>
<text x="530.4" y="597.0">0.004</text>
<text x="530.4" y="610.7">0.002</text>
<text x="530.4" y="624.4">0.000</text>
<text x="530.4" y="638.2">−0.002</text>
<text x="530.4" y="651.9">−0.004</text>
<text x="530.4" y="665.6">−0.006</text>
</g>
<path d="M535.6,581.0h1.6M535.6,594.7h1.6M535.6,608.4h1.6M535.6,622.1h1.6M535.6,635.9h1.6M535.6,649.6h1.6M535.6,663.3h1.6" stroke="#555" stroke-width="0.5" fill="none"/>
<text transform="translate(499.3,636.3) rotate(-90)" font-family="'DejaVu Serif','Liberation Serif',serif" font-size="8.2" fill="#3c3c3c" stroke="#3c3c3c" stroke-width="0.4">strain</text>
</svg>
</body></html>
